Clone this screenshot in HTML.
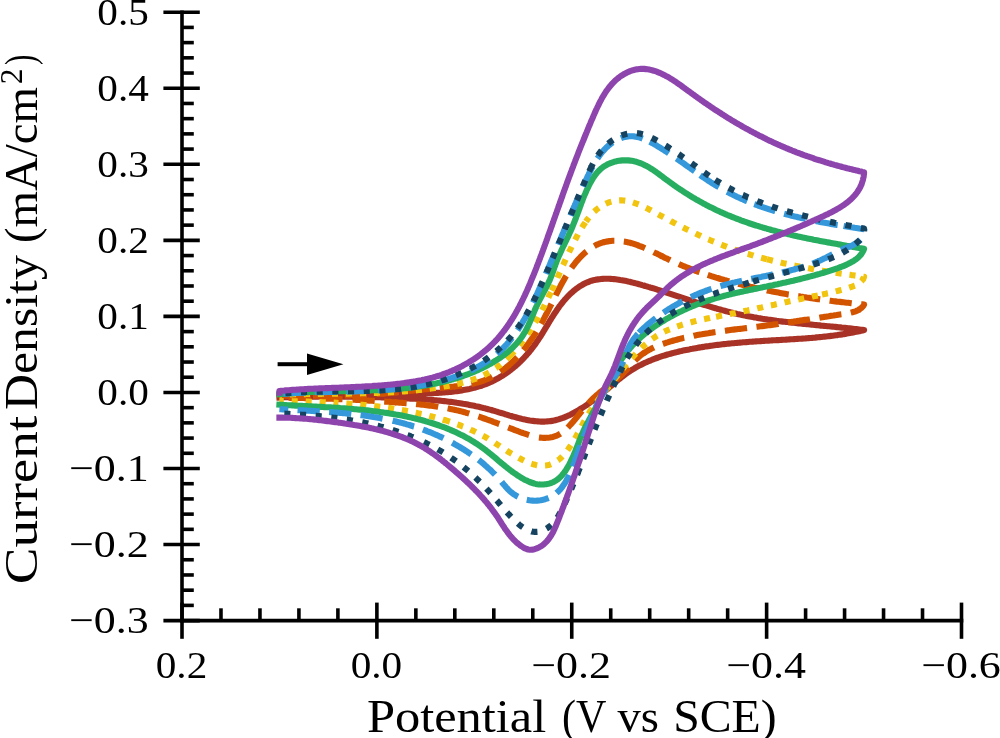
<!DOCTYPE html>
<html><head><meta charset="utf-8"><style>
html,body{margin:0;padding:0;background:#fff;}
svg{display:block;}
text{font-family:"Liberation Serif",serif;fill:#000;}
</style></head><body>
<svg style="will-change:transform" width="1000" height="738" viewBox="0 0 1000 738">
<rect width="1000" height="738" fill="#fff"/>
<path d="M279.4,396.0 L281.0,396.0 L282.6,396.1 L284.2,396.1 L285.8,396.1 L287.4,396.2 L289.0,396.2 L290.6,396.2 L292.2,396.2 L293.8,396.3 L295.4,396.3 L297.0,396.3 L298.6,396.3 L300.2,396.3 L301.8,396.3 L303.4,396.3 L305.0,396.3 L306.6,396.3 L308.2,396.3 L309.8,396.3 L311.4,396.3 L313.0,396.3 L314.6,396.3 L316.2,396.3 L317.8,396.3 L319.4,396.2 L321.0,396.2 L322.6,396.2 L324.2,396.2 L325.8,396.1 L327.4,396.1 L329.0,396.1 L330.6,396.1 L332.2,396.0 L333.8,396.0 L335.4,396.0 L337.0,395.9 L338.6,395.9 L340.2,395.8 L341.8,395.8 L343.4,395.8 L345.1,395.7 L346.7,395.7 L348.3,395.6 L349.9,395.6 L351.5,395.5 L353.1,395.5 L354.7,395.5 L356.3,395.4 L357.9,395.4 L359.5,395.3 L361.1,395.3 L362.7,395.2 L364.3,395.2 L365.9,395.1 L367.5,395.0 L369.1,395.0 L370.7,394.9 L372.3,394.9 L373.9,394.8 L375.5,394.8 L377.1,394.7 L378.7,394.7 L380.3,394.6 L381.9,394.6 L383.5,394.5 L385.1,394.5 L386.7,394.4 L388.3,394.4 L389.9,394.3 L391.5,394.3 L393.1,394.2 L394.7,394.2 L396.3,394.1 L397.9,394.1 L399.5,394.0 L401.1,394.0 L402.7,393.9 L404.3,393.9 L405.9,393.9 L407.5,393.8 L409.1,393.8 L410.7,393.7 L412.3,393.7 L413.9,393.7 L415.5,393.6 L417.1,393.6 L418.7,393.6 L420.3,393.5 L421.9,393.5 L423.5,393.4 L425.1,393.4 L426.7,393.3 L428.3,393.3 L429.9,393.2 L431.5,393.2 L433.1,393.1 L434.7,393.0 L436.3,392.9 L437.9,392.9 L439.5,392.8 L441.1,392.7 L442.7,392.5 L444.3,392.4 L445.9,392.3 L447.5,392.2 L449.1,392.0 L450.7,391.9 L452.3,391.7 L453.8,391.5 L455.4,391.3 L457.0,391.1 L458.6,390.9 L460.2,390.6 L461.8,390.4 L463.3,390.1 L464.9,389.8 L466.5,389.5 L468.1,389.2 L469.6,388.9 L471.2,388.5 L472.8,388.1 L474.3,387.8 L475.9,387.3 L477.4,386.9 L478.9,386.4 L480.5,386.0 L482.0,385.5 L483.5,384.9 L485.0,384.4 L486.5,383.8 L488.0,383.2 L489.4,382.6 L490.9,381.9 L492.4,381.3 L493.8,380.6 L495.2,379.8 L496.6,379.1 L498.1,378.3 L499.4,377.5 L500.8,376.7 L502.2,375.9 L503.5,375.0 L504.9,374.1 L506.2,373.2 L507.5,372.3 L508.8,371.4 L510.1,370.4 L511.3,369.4 L512.6,368.4 L513.8,367.4 L515.1,366.4 L516.3,365.3 L517.5,364.2 L518.6,363.2 L519.8,362.1 L520.9,360.9 L522.1,359.8 L523.2,358.7 L524.3,357.5 L525.4,356.3 L526.5,355.1 L527.5,353.9 L528.6,352.7 L529.6,351.5 L530.6,350.2 L531.6,349.0 L532.6,347.7 L533.5,346.5 L534.5,345.2 L535.4,343.9 L536.3,342.6 L537.2,341.2 L538.1,339.9 L539.0,338.6 L539.9,337.2 L540.8,335.9 L541.6,334.5 L542.5,333.2 L543.3,331.8 L544.1,330.4 L545.0,329.1 L545.8,327.7 L546.6,326.3 L547.5,325.0 L548.3,323.6 L549.1,322.2 L549.9,320.8 L550.8,319.5 L551.6,318.1 L552.5,316.8 L553.3,315.4 L554.2,314.1 L555.1,312.7 L556.0,311.4 L556.9,310.1 L557.8,308.7 L558.7,307.4 L559.6,306.1 L560.6,304.9 L561.6,303.6 L562.6,302.3 L563.6,301.1 L564.6,299.9 L565.7,298.7 L566.8,297.5 L567.9,296.3 L569.0,295.2 L570.1,294.1 L571.3,293.0 L572.5,291.9 L573.7,290.8 L574.9,289.8 L576.2,288.8 L577.5,287.9 L578.8,287.0 L580.1,286.1 L581.5,285.3 L582.9,284.5 L584.3,283.7 L585.7,283.0 L587.2,282.4 L588.7,281.8 L590.2,281.2 L591.7,280.7 L593.3,280.3 L594.8,279.9 L596.4,279.6 L598.0,279.4 L599.6,279.2 L601.1,279.0 L602.7,278.9 L604.3,278.8 L605.9,278.8 L607.5,278.8 L609.1,278.8 L610.7,278.9 L612.3,279.0 L613.9,279.1 L615.5,279.3 L617.1,279.5 L618.7,279.7 L620.3,280.0 L621.9,280.2 L623.4,280.5 L625.0,280.8 L626.6,281.1 L628.2,281.5 L629.7,281.8 L631.3,282.2 L632.8,282.6 L634.4,283.0 L635.9,283.4 L637.5,283.8 L639.0,284.2 L640.6,284.6 L642.1,285.1 L643.7,285.5 L645.2,286.0 L646.7,286.4 L648.3,286.9 L649.8,287.3 L651.3,287.8 L652.9,288.2 L654.4,288.7 L655.9,289.2 L657.5,289.7 L659.0,290.1 L660.5,290.6 L662.0,291.1 L663.6,291.6 L665.1,292.1 L666.6,292.6 L668.1,293.1 L669.7,293.6 L671.2,294.1 L672.7,294.6 L674.2,295.1 L675.7,295.6 L677.3,296.1 L678.8,296.6 L680.3,297.1 L681.8,297.6 L683.3,298.1 L684.9,298.6 L686.4,299.1 L687.9,299.6 L689.4,300.1 L691.0,300.6 L692.5,301.1 L694.0,301.6 L695.5,302.1 L697.0,302.6 L698.6,303.0 L700.1,303.5 L701.6,304.0 L703.1,304.5 L704.7,305.0 L706.2,305.4 L707.7,305.9 L709.3,306.4 L710.8,306.9 L712.3,307.3 L713.9,307.8 L715.4,308.2 L716.9,308.7 L718.5,309.1 L720.0,309.5 L721.6,310.0 L723.1,310.4 L724.7,310.8 L726.2,311.2 L727.8,311.6 L729.3,312.0 L730.9,312.4 L732.4,312.8 L734.0,313.2 L735.5,313.5 L737.1,313.9 L738.7,314.2 L740.2,314.6 L741.8,314.9 L743.4,315.2 L744.9,315.6 L746.5,315.9 L748.1,316.2 L749.6,316.5 L751.2,316.8 L752.8,317.1 L754.4,317.4 L755.9,317.6 L757.5,317.9 L759.1,318.2 L760.7,318.4 L762.3,318.7 L763.8,318.9 L765.4,319.2 L767.0,319.4 L768.6,319.7 L770.2,319.9 L771.8,320.1 L773.3,320.3 L774.9,320.5 L776.5,320.8 L778.1,321.0 L779.7,321.2 L781.3,321.4 L782.9,321.6 L784.5,321.8 L786.1,321.9 L787.6,322.1 L789.2,322.3 L790.8,322.5 L792.4,322.7 L794.0,322.8 L795.6,323.0 L797.2,323.2 L798.8,323.4 L800.4,323.5 L802.0,323.7 L803.6,323.9 L805.2,324.0 L806.8,324.2 L808.3,324.3 L809.9,324.5 L811.5,324.6 L813.1,324.8 L814.7,325.0 L816.3,325.1 L817.9,325.3 L819.5,325.4 L821.1,325.6 L822.7,325.7 L824.3,325.9 L825.9,326.0 L827.5,326.2 L829.1,326.3 L830.7,326.5 L832.3,326.6 L833.9,326.8 L835.4,326.9 L837.0,327.1 L838.6,327.3 L840.2,327.4 L841.8,327.6 L843.4,327.7 L845.0,327.9 L846.6,328.1 L848.2,328.3 L849.8,328.4 L851.4,328.6 L853.0,328.8 L854.6,329.0 L856.2,329.1 L857.7,329.3 L859.3,329.5 L860.9,329.7 L862.5,329.9 L864.1,330.1 L862.5,330.5 L861.0,330.8 L859.4,331.2 L857.9,331.5 L856.3,331.8 L854.7,332.1 L853.1,332.5 L851.6,332.8 L850.0,333.0 L848.4,333.3 L846.8,333.6 L845.3,333.9 L843.7,334.1 L842.1,334.4 L840.5,334.6 L838.9,334.8 L837.4,335.1 L835.8,335.3 L834.2,335.5 L832.6,335.7 L831.0,335.9 L829.4,336.1 L827.8,336.3 L826.2,336.5 L824.6,336.6 L823.1,336.8 L821.5,337.0 L819.9,337.1 L818.3,337.3 L816.7,337.4 L815.1,337.6 L813.5,337.7 L811.9,337.9 L810.3,338.0 L808.7,338.1 L807.1,338.2 L805.5,338.4 L803.9,338.5 L802.3,338.6 L800.7,338.7 L799.1,338.8 L797.5,338.9 L795.9,339.0 L794.3,339.1 L792.7,339.2 L791.1,339.3 L789.5,339.4 L787.9,339.5 L786.4,339.6 L784.8,339.7 L783.2,339.8 L781.6,339.9 L780.0,340.0 L778.4,340.1 L776.8,340.1 L775.2,340.2 L773.6,340.3 L772.0,340.4 L770.4,340.5 L768.8,340.6 L767.2,340.7 L765.6,340.8 L764.0,340.9 L762.4,341.0 L760.8,341.1 L759.2,341.2 L757.6,341.3 L756.0,341.4 L754.4,341.5 L752.8,341.6 L751.2,341.7 L749.6,341.8 L748.0,342.0 L746.4,342.1 L744.8,342.2 L743.2,342.3 L741.6,342.5 L740.0,342.6 L738.4,342.7 L736.8,342.9 L735.2,343.0 L733.7,343.2 L732.1,343.3 L730.5,343.5 L728.9,343.6 L727.3,343.8 L725.7,344.0 L724.1,344.1 L722.5,344.3 L720.9,344.5 L719.3,344.7 L717.7,344.9 L716.2,345.1 L714.6,345.3 L713.0,345.5 L711.4,345.7 L709.8,345.9 L708.2,346.2 L706.6,346.4 L705.1,346.6 L703.5,346.9 L701.9,347.1 L700.3,347.4 L698.7,347.6 L697.2,347.9 L695.6,348.2 L694.0,348.5 L692.4,348.8 L690.9,349.0 L689.3,349.4 L687.7,349.7 L686.1,350.0 L684.6,350.3 L683.0,350.6 L681.4,351.0 L679.9,351.3 L678.3,351.7 L676.8,352.1 L675.2,352.5 L673.7,352.9 L672.1,353.3 L670.6,353.7 L669.0,354.1 L667.5,354.5 L666.0,355.0 L664.4,355.5 L662.9,355.9 L661.4,356.4 L659.9,356.9 L658.3,357.5 L656.8,358.0 L655.3,358.5 L653.8,359.1 L652.3,359.7 L650.9,360.3 L649.4,360.9 L647.9,361.5 L646.4,362.2 L645.0,362.8 L643.5,363.5 L642.1,364.2 L640.7,364.9 L639.2,365.6 L637.8,366.4 L636.4,367.2 L635.0,368.0 L633.7,368.8 L632.3,369.6 L630.9,370.5 L629.6,371.3 L628.3,372.2 L626.9,373.1 L625.6,374.1 L624.4,375.0 L623.1,376.0 L621.8,377.0 L620.6,378.0 L619.3,379.0 L618.1,380.0 L616.9,381.0 L615.6,382.1 L614.4,383.1 L613.2,384.1 L612.0,385.2 L610.8,386.2 L609.5,387.2 L608.3,388.3 L607.1,389.3 L605.9,390.3 L604.6,391.3 L603.4,392.4 L602.1,393.4 L600.9,394.4 L599.6,395.4 L598.4,396.4 L597.1,397.4 L595.9,398.3 L594.6,399.3 L593.3,400.3 L592.0,401.2 L590.7,402.1 L589.4,403.1 L588.1,404.0 L586.8,404.9 L585.5,405.8 L584.1,406.7 L582.8,407.5 L581.4,408.4 L580.1,409.2 L578.7,410.1 L577.3,410.9 L575.9,411.7 L574.5,412.5 L573.1,413.2 L571.7,414.0 L570.3,414.7 L568.8,415.4 L567.4,416.0 L565.9,416.7 L564.4,417.3 L562.9,417.9 L561.4,418.4 L559.9,418.9 L558.4,419.4 L556.8,419.8 L555.3,420.2 L553.7,420.6 L552.2,420.9 L550.6,421.1 L549.0,421.3 L547.4,421.4 L545.8,421.5 L544.2,421.6 L542.6,421.6 L541.0,421.6 L539.4,421.5 L537.8,421.4 L536.2,421.3 L534.6,421.1 L533.0,420.9 L531.4,420.7 L529.8,420.5 L528.3,420.2 L526.7,419.9 L525.1,419.6 L523.6,419.2 L522.0,418.9 L520.4,418.5 L518.9,418.1 L517.3,417.7 L515.8,417.3 L514.3,416.9 L512.7,416.5 L511.2,416.0 L509.6,415.6 L508.1,415.1 L506.6,414.6 L505.0,414.2 L503.5,413.7 L502.0,413.2 L500.5,412.8 L498.9,412.3 L497.4,411.8 L495.9,411.4 L494.3,410.9 L492.8,410.5 L491.3,410.0 L489.7,409.6 L488.2,409.2 L486.6,408.8 L485.1,408.3 L483.5,408.0 L482.0,407.6 L480.4,407.2 L478.8,406.8 L477.3,406.5 L475.7,406.2 L474.2,405.8 L472.6,405.5 L471.0,405.2 L469.4,404.9 L467.9,404.6 L466.3,404.3 L464.7,404.0 L463.1,403.8 L461.6,403.5 L460.0,403.2 L458.4,403.0 L456.8,402.8 L455.2,402.5 L453.6,402.3 L452.1,402.1 L450.5,401.9 L448.9,401.7 L447.3,401.5 L445.7,401.3 L444.1,401.1 L442.5,401.0 L440.9,400.8 L439.3,400.6 L437.7,400.5 L436.2,400.3 L434.6,400.2 L433.0,400.0 L431.4,399.9 L429.8,399.8 L428.2,399.7 L426.6,399.5 L425.0,399.4 L423.4,399.3 L421.8,399.2 L420.2,399.1 L418.6,399.0 L417.0,398.9 L415.4,398.8 L413.8,398.7 L412.2,398.6 L410.6,398.6 L409.0,398.5 L407.4,398.4 L405.8,398.3 L404.2,398.3 L402.6,398.2 L401.0,398.1 L399.4,398.0 L397.8,398.0 L396.2,397.9 L394.6,397.9 L393.0,397.8 L391.4,397.7 L389.8,397.7 L388.2,397.6 L386.6,397.6 L385.0,397.5 L383.4,397.4 L381.8,397.4 L380.2,397.3 L378.6,397.3 L377.0,397.2 L375.4,397.2 L373.8,397.1 L372.2,397.1 L370.6,397.1 L369.0,397.0 L367.4,397.0 L365.8,396.9 L364.2,396.9 L362.6,396.9 L361.0,396.8 L359.4,396.8 L357.8,396.8 L356.2,396.7 L354.6,396.7 L353.0,396.7 L351.4,396.7 L349.8,396.6 L348.2,396.6 L346.6,396.6 L345.0,396.6 L343.4,396.6 L341.8,396.5 L340.2,396.5 L338.6,396.5 L337.0,396.5 L335.4,396.5 L333.8,396.5 L332.2,396.5 L330.6,396.5 L329.0,396.5 L327.4,396.5 L325.8,396.5 L324.2,396.5 L322.6,396.5 L321.0,396.5 L319.4,396.5 L317.8,396.6 L316.2,396.6 L314.6,396.6 L313.0,396.6 L311.4,396.6 L309.8,396.7 L308.2,396.7 L306.6,396.7 L305.0,396.7 L303.4,396.8 L301.8,396.8 L300.2,396.8 L298.6,396.9 L297.0,396.9 L295.4,397.0 L293.8,397.0 L292.2,397.0 L290.6,397.1 L289.0,397.1 L287.4,397.2 L285.8,397.3 L284.2,397.3 L282.6,397.4 L281.0,397.4 L279.4,397.5" fill="none" stroke="#a93226" stroke-width="6.10" stroke-linejoin="round" stroke-linecap="square"/>
<path d="M279.4,395.5 L281.0,395.5 L282.6,395.5 L284.2,395.5 L285.8,395.6 L287.4,395.6 L289.0,395.6 L290.6,395.6 L292.2,395.6 L293.8,395.6 L295.4,395.7 L297.0,395.7 L298.6,395.7 L300.2,395.7 L301.8,395.7 L303.4,395.7 L305.0,395.7 L306.7,395.7 L308.3,395.7 L309.9,395.8 L311.5,395.8 L313.1,395.8 L314.7,395.8 L316.3,395.8 L317.9,395.8 L319.5,395.8 L321.1,395.8 L322.7,395.8 L324.3,395.8 L325.9,395.8 L327.5,395.8 L329.1,395.7 L330.7,395.7 L332.3,395.7 L333.9,395.7 L335.5,395.7 L337.1,395.7 L338.7,395.6 L340.3,395.6 L341.9,395.6 L343.5,395.5 L345.1,395.5 L346.7,395.5 L348.3,395.4 L349.9,395.4 L351.5,395.3 L353.1,395.3 L354.7,395.2 L356.3,395.2 L357.9,395.1 L359.5,395.0 L361.1,395.0 L362.8,394.9 L364.4,394.8 L366.0,394.7 L367.6,394.7 L369.2,394.6 L370.8,394.5 L372.4,394.4 L374.0,394.3 L375.6,394.2 L377.2,394.0 L378.8,393.9 L380.4,393.8 L381.9,393.7 L383.5,393.6 L385.1,393.4 L386.7,393.3 L388.3,393.1 L389.9,393.0 L391.5,392.8 L393.1,392.7 L394.7,392.5 L396.3,392.4 L397.9,392.2 L399.5,392.0 L401.1,391.9 L402.7,391.7 L404.3,391.5 L405.9,391.4 L407.5,391.2 L409.1,391.0 L410.7,390.8 L412.3,390.7 L413.9,390.5 L415.4,390.3 L417.0,390.2 L418.6,390.0 L420.2,389.8 L421.8,389.6 L423.4,389.5 L425.0,389.3 L426.6,389.1 L428.2,389.0 L429.8,388.8 L431.4,388.6 L433.0,388.5 L434.6,388.3 L436.2,388.2 L437.8,388.0 L439.4,387.9 L441.0,387.7 L442.6,387.6 L444.2,387.4 L445.8,387.3 L447.4,387.2 L448.9,387.0 L450.5,386.9 L452.1,386.7 L453.7,386.6 L455.3,386.4 L456.9,386.2 L458.5,386.0 L460.1,385.8 L461.7,385.6 L463.3,385.4 L464.9,385.2 L466.5,384.9 L468.0,384.6 L469.6,384.3 L471.2,384.0 L472.7,383.7 L474.3,383.3 L475.9,382.9 L477.4,382.5 L479.0,382.1 L480.5,381.6 L482.0,381.1 L483.5,380.6 L485.0,380.0 L486.5,379.4 L488.0,378.7 L489.4,378.1 L490.9,377.4 L492.3,376.6 L493.7,375.9 L495.1,375.1 L496.5,374.3 L497.8,373.4 L499.2,372.6 L500.5,371.7 L501.8,370.8 L503.1,369.8 L504.4,368.9 L505.7,367.9 L506.9,366.9 L508.2,365.8 L509.4,364.8 L510.6,363.7 L511.8,362.6 L512.9,361.5 L514.1,360.4 L515.2,359.3 L516.3,358.1 L517.4,357.0 L518.5,355.8 L519.6,354.6 L520.6,353.4 L521.7,352.2 L522.7,350.9 L523.7,349.7 L524.7,348.4 L525.7,347.2 L526.7,345.9 L527.6,344.6 L528.6,343.3 L529.5,342.0 L530.4,340.7 L531.4,339.4 L532.3,338.1 L533.2,336.7 L534.0,335.4 L534.9,334.1 L535.8,332.7 L536.6,331.3 L537.4,330.0 L538.3,328.6 L539.1,327.2 L539.9,325.8 L540.7,324.5 L541.5,323.1 L542.3,321.7 L543.1,320.3 L543.8,318.9 L544.6,317.4 L545.3,316.0 L546.1,314.6 L546.8,313.2 L547.6,311.8 L548.3,310.3 L549.0,308.9 L549.7,307.5 L550.4,306.0 L551.2,304.6 L551.9,303.2 L552.6,301.7 L553.3,300.3 L554.0,298.8 L554.7,297.4 L555.4,296.0 L556.1,294.5 L556.9,293.1 L557.6,291.7 L558.3,290.2 L559.0,288.8 L559.8,287.4 L560.5,286.0 L561.3,284.6 L562.0,283.2 L562.8,281.8 L563.6,280.4 L564.4,279.0 L565.2,277.6 L566.0,276.2 L566.9,274.8 L567.7,273.5 L568.6,272.1 L569.5,270.8 L570.4,269.5 L571.3,268.2 L572.2,266.9 L573.2,265.6 L574.2,264.3 L575.2,263.0 L576.2,261.8 L577.2,260.6 L578.3,259.4 L579.4,258.2 L580.5,257.0 L581.6,255.9 L582.7,254.8 L583.9,253.7 L585.1,252.6 L586.3,251.6 L587.6,250.6 L588.8,249.6 L590.1,248.6 L591.5,247.8 L592.8,246.9 L594.2,246.1 L595.6,245.3 L597.1,244.6 L598.5,244.0 L600.0,243.4 L601.5,242.9 L603.1,242.4 L604.6,242.0" fill="none" stroke="#d35400" stroke-width="6.10" stroke-linejoin="round" stroke-linecap="butt" stroke-dasharray="22.30 9.50" stroke-dashoffset="30.06"/>
<path d="M603.1,242.4 L604.6,242.0 L606.2,241.6 L607.8,241.4 L609.3,241.1 L610.9,241.0 L612.5,240.8 L614.1,240.8 L615.7,240.8 L617.3,240.8 L618.9,240.9 L620.5,241.0 L622.1,241.2 L623.7,241.5 L625.3,241.7 L626.9,242.1 L628.4,242.4 L630.0,242.8 L631.5,243.2 L633.1,243.7 L634.6,244.2 L636.1,244.7 L637.6,245.2 L639.1,245.8 L640.6,246.3 L642.1,246.9 L643.6,247.5 L645.1,248.2 L646.6,248.8 L648.0,249.5 L649.5,250.1 L650.9,250.8 L652.4,251.5 L653.8,252.2 L655.3,252.9 L656.7,253.6 L658.1,254.3 L659.6,255.0 L661.0,255.7 L662.4,256.4" fill="none" stroke="#d35400" stroke-width="6.10" stroke-linejoin="round" stroke-linecap="butt" stroke-dasharray="22.30 9.50" stroke-dashoffset="10.88"/>
<path d="M661.0,255.7 L662.4,256.4 L663.9,257.2 L665.3,257.9 L666.8,258.6 L668.2,259.3 L669.7,259.9 L671.1,260.6 L672.6,261.3 L674.0,262.0 L675.5,262.6 L676.9,263.3 L678.4,263.9 L679.9,264.6 L681.4,265.2 L682.8,265.8 L684.3,266.4 L685.8,267.0 L687.3,267.6 L688.8,268.2 L690.3,268.8 L691.8,269.4 L693.3,269.9 L694.8,270.5 L696.3,271.0 L697.8,271.6 L699.3,272.1 L700.8,272.6 L702.3,273.2 L703.9,273.7" fill="none" stroke="#d35400" stroke-width="6.10" stroke-linejoin="round" stroke-linecap="butt" stroke-dasharray="22.30 9.50" stroke-dashoffset="12.08"/>
<path d="M702.3,273.2 L703.9,273.7 L705.4,274.2 L706.9,274.7 L708.4,275.2 L709.9,275.7 L711.5,276.2 L713.0,276.6 L714.5,277.1 L716.1,277.6 L717.6,278.0 L719.1,278.5 L720.7,279.0 L722.2,279.4 L723.8,279.8 L725.3,280.3 L726.8,280.7 L728.4,281.1 L729.9,281.6 L731.5,282.0 L733.0,282.4 L734.6,282.8 L736.1,283.2 L737.7,283.6 L739.2,284.0 L740.8,284.4 L742.3,284.8 L743.9,285.2 L745.5,285.6 L747.0,285.9 L748.6,286.3" fill="none" stroke="#d35400" stroke-width="6.10" stroke-linejoin="round" stroke-linecap="butt" stroke-dasharray="22.30 9.50" stroke-dashoffset="26.09"/>
<path d="M747.0,285.9 L748.6,286.3 L750.1,286.7 L751.7,287.0 L753.3,287.4 L754.8,287.8 L756.4,288.1 L758.0,288.5 L759.5,288.8 L761.1,289.1 L762.7,289.5 L764.2,289.8 L765.8,290.1 L767.4,290.5 L768.9,290.8 L770.5,291.1 L772.1,291.4 L773.7,291.7 L775.2,292.0 L776.8,292.3 L778.4,292.6 L780.0,292.9 L781.5,293.2 L783.1,293.5 L784.7,293.8 L786.3,294.1 L787.8,294.4 L789.4,294.6 L791.0,294.9 L792.6,295.2 L794.2,295.4 L795.7,295.7 L797.3,296.0 L798.9,296.2 L800.5,296.5 L802.1,296.7 L803.7,297.0 L805.2,297.2 L806.8,297.5 L808.4,297.7 L810.0,297.9 L811.6,298.2 L813.2,298.4 L814.8,298.6 L816.3,298.9 L817.9,299.1 L819.5,299.3 L821.1,299.5 L822.7,299.7 L824.3,299.9 L825.9,300.2 L827.5,300.4 L829.1,300.6 L830.6,300.8 L832.2,301.0 L833.8,301.2 L835.4,301.4 L837.0,301.6 L838.6,301.7 L840.2,301.9 L841.8,302.1 L843.4,302.3 L845.0,302.5 L846.6,302.7 L848.2,302.8 L849.7,303.0 L851.3,303.2 L852.9,303.4 L854.5,303.5 L856.1,303.7 L857.7,303.9 L859.3,304.0 L860.9,304.2 L862.5,304.3 L864.1,304.5 L863.3,305.9 L862.3,307.1 L861.1,308.2 L859.8,309.2 L858.4,310.0" fill="none" stroke="#d35400" stroke-width="6.10" stroke-linejoin="round" stroke-linecap="butt" stroke-dasharray="22.30 9.50" stroke-dashoffset="11.44"/>
<path d="M859.8,309.2 L858.4,310.0 L857.0,310.7 L855.5,311.3 L854.0,311.8 L852.4,312.2 L850.9,312.6 L849.3,313.0 L847.8,313.3 L846.2,313.5 L844.6,313.8 L843.0,314.0 L841.4,314.3 L839.8,314.5 L838.2,314.7 L836.7,315.0 L835.1,315.2 L833.5,315.5 L831.9,315.7 L830.3,315.9 L828.7,316.2 L827.2,316.4 L825.6,316.7 L824.0,316.9 L822.4,317.2 L820.8,317.4 L819.2,317.7 L817.7,317.9 L816.1,318.2 L814.5,318.4 L812.9,318.7 L811.3,318.9 L809.7,319.2 L808.2,319.4 L806.6,319.7 L805.0,319.9 L803.4,320.1 L801.8,320.4 L800.2,320.6 L798.7,320.9 L797.1,321.1 L795.5,321.4 L793.9,321.6 L792.3,321.9 L790.7,322.1 L789.2,322.3 L787.6,322.6 L786.0,322.8 L784.4,323.0 L782.8,323.3 L781.2,323.5 L779.6,323.7 L778.1,324.0 L776.5,324.2 L774.9,324.4 L773.3,324.6 L771.7,324.9 L770.1,325.1 L768.5,325.3 L766.9,325.5 L765.4,325.7 L763.8,325.9 L762.2,326.1 L760.6,326.3 L759.0,326.5 L757.4,326.7 L755.8,326.9 L754.2,327.1 L752.6,327.3 L751.0,327.5 L749.4,327.7 L747.9,327.9 L746.3,328.1 L744.7,328.3 L743.1,328.5 L741.5,328.7 L739.9,328.9 L738.3,329.0 L736.7,329.2 L735.1,329.4 L733.5,329.6 L731.9,329.8 L730.4,330.0 L728.8,330.2 L727.2,330.4 L725.6,330.7 L724.0,330.9 L722.4,331.1 L720.8,331.3 L719.2,331.5 L717.7,331.7 L716.1,332.0 L714.5,332.2 L712.9,332.4 L711.3,332.7 L709.7,332.9 L708.1,333.2 L706.6,333.4 L705.0,333.7 L703.4,334.0 L701.8,334.3 L700.2,334.5 L698.7,334.8 L697.1,335.1 L695.5,335.4 L693.9,335.7 L692.4,336.1 L690.8,336.4 L689.2,336.7 L687.7,337.1 L686.1,337.4 L684.6,337.8 L683.0,338.1 L681.4,338.5 L679.9,338.9 L678.3,339.3 L676.8,339.7 L675.2,340.1 L673.7,340.5 L672.1,341.0 L670.6,341.4 L669.1,341.9 L667.5,342.4 L666.0,342.8 L664.5,343.3 L663.0,343.9 L661.5,344.4 L660.0,345.0 L658.5,345.5 L657.0,346.1 L655.5,346.8 L654.0,347.4 L652.6,348.1 L651.1,348.8 L649.7,349.6 L648.3,350.3 L646.9,351.1 L645.6,352.0 L644.2,352.8 L642.9,353.7" fill="none" stroke="#d35400" stroke-width="6.10" stroke-linejoin="round" stroke-linecap="butt" stroke-dasharray="22.30 9.50" stroke-dashoffset="12.56"/>
<path d="M644.2,352.8 L642.9,353.7 L641.6,354.7 L640.3,355.7 L639.1,356.7 L637.9,357.8 L636.7,358.8 L635.6,360.0 L634.5,361.1 L633.4,362.3 L632.3,363.4 L631.2,364.6 L630.1,365.8 L629.0,367.0 L628.0,368.2 L626.9,369.4 L625.8,370.6 L624.7,371.7 L623.6,372.9 L622.5,374.0 L621.3,375.2 L620.2,376.3 L619.0,377.3 L617.8,378.4 L616.6,379.4 L615.3,380.5 L614.1,381.5 L612.8,382.5 L611.6,383.4 L610.3,384.4 L609.0,385.4 L607.7,386.4 L606.5,387.3 L605.2,388.3 L603.9,389.3 L602.6,390.3 L601.4,391.2 L600.1,392.2 L598.9,393.3 L597.7,394.3 L596.5,395.3 L595.3,396.4 L594.1,397.5 L592.9,398.6 L591.8,399.7 L590.7,400.9 L589.6,402.1 L588.5,403.2 L587.4,404.4 L586.4,405.6 L585.3,406.9 L584.3,408.1 L583.3,409.3 L582.3,410.5 L581.2,411.8 L580.2,413.0 L579.2,414.3 L578.2,415.5 L577.2,416.8 L576.2,418.0 L575.2,419.2 L574.1,420.5 L573.1,421.7 L572.1,422.9 L571.0,424.1 L569.9,425.3 L568.8,426.5 L567.7,427.7 L566.6,428.8 L565.4,429.9 L564.2,430.9 L563.0,431.9 L561.7,432.9 L560.3,433.8 L558.9,434.5 L557.5,435.2 L556.0,435.9 L554.5,436.4 L553.0,436.9 L551.4,437.2 L549.8,437.5 L548.3,437.7 L546.7,437.8 L545.1,437.9 L543.5,437.9 L541.9,437.8 L540.3,437.6 L538.7,437.4 L537.1,437.2 L535.5,436.8 L534.0,436.5 L532.4,436.1" fill="none" stroke="#d35400" stroke-width="6.10" stroke-linejoin="round" stroke-linecap="butt" stroke-dasharray="22.30 9.50" stroke-dashoffset="10.29"/>
<path d="M534.0,436.5 L532.4,436.1 L530.9,435.7 L529.3,435.2 L527.8,434.7 L526.3,434.2 L524.8,433.7 L523.2,433.2 L521.7,432.6 L520.2,432.1 L518.7,431.5 L517.2,430.9 L515.7,430.4 L514.2,429.8 L512.7,429.2 L511.2,428.6 L509.8,428.1 L508.3,427.5 L506.8,426.9 L505.3,426.3 L503.8,425.8 L502.3,425.2 L500.8,424.6 L499.3,424.0 L497.8,423.5 L496.3,422.9 L494.8,422.3 L493.3,421.8 L491.8,421.2 L490.3,420.7 L488.8,420.1 L487.3,419.6 L485.8,419.0 L484.2,418.5 L482.7,418.0 L481.2,417.4 L479.7,416.9 L478.2,416.4 L476.7,415.9 L475.1,415.4 L473.6,414.9" fill="none" stroke="#d35400" stroke-width="6.10" stroke-linejoin="round" stroke-linecap="butt" stroke-dasharray="22.30 9.50" stroke-dashoffset="26.71"/>
<path d="M475.1,415.4 L473.6,414.9 L472.1,414.5 L470.5,414.0 L469.0,413.5 L467.5,413.1 L465.9,412.7 L464.4,412.2 L462.8,411.8 L461.3,411.4 L459.7,411.0 L458.2,410.6 L456.6,410.3 L455.0,409.9 L453.5,409.6 L451.9,409.2 L450.3,408.9 L448.8,408.6 L447.2,408.3 L445.6,408.0 L444.0,407.7 L442.5,407.5 L440.9,407.2 L439.3,407.0 L437.7,406.7 L436.1,406.5 L434.5,406.2 L433.0,406.0 L431.4,405.8 L429.8,405.6 L428.2,405.4 L426.6,405.2 L425.0,405.0 L423.4,404.8 L421.8,404.7 L420.2,404.5 L418.6,404.3 L417.0,404.2 L415.4,404.0 L413.8,403.9 L412.3,403.7 L410.7,403.6 L409.1,403.4 L407.5,403.3 L405.9,403.2 L404.3,403.0 L402.7,402.9 L401.1,402.8 L399.5,402.7 L397.9,402.5 L396.3,402.4 L394.7,402.3" fill="none" stroke="#d35400" stroke-width="6.10" stroke-linejoin="round" stroke-linecap="butt" stroke-dasharray="22.30 9.50" stroke-dashoffset="25.68"/>
<path d="M396.3,402.4 L394.7,402.3 L393.1,402.2 L391.5,402.1 L389.9,401.9 L388.3,401.8 L386.7,401.7 L385.1,401.6 L383.5,401.5 L381.9,401.4 L380.3,401.3 L378.7,401.2 L377.1,401.1 L375.5,401.0 L373.9,400.9 L372.3,400.8 L370.7,400.7 L369.1,400.6 L367.5,400.5 L365.9,400.4 L364.3,400.3 L362.7,400.2 L361.1,400.1 L359.5,400.0 L357.9,400.0 L356.3,399.9 L354.7,399.8 L353.1,399.7 L351.5,399.6 L349.9,399.6 L348.3,399.5 L346.7,399.4" fill="none" stroke="#d35400" stroke-width="6.10" stroke-linejoin="round" stroke-linecap="butt" stroke-dasharray="22.30 9.50" stroke-dashoffset="10.19"/>
<path d="M348.3,399.5 L346.7,399.4 L345.1,399.3 L343.5,399.3 L341.9,399.2 L340.3,399.1 L338.7,399.1 L337.1,399.0 L335.5,398.9 L333.9,398.9 L332.3,398.8 L330.7,398.8 L329.1,398.7 L327.5,398.6 L325.9,398.6 L324.3,398.5 L322.7,398.5 L321.1,398.4 L319.5,398.4 L317.9,398.4 L316.3,398.3 L314.7,398.3 L313.1,398.2 L311.5,398.2 L309.8,398.2 L308.2,398.1 L306.6,398.1 L305.0,398.1 L303.4,398.0 L301.8,398.0 L300.2,398.0 L298.6,398.0 L297.0,397.9 L295.4,397.9 L293.8,397.9 L292.2,397.9 L290.6,397.9 L289.0,397.8 L287.4,397.8 L285.8,397.8 L284.2,397.8 L282.6,397.8 L281.0,397.8 L279.4,397.8" fill="none" stroke="#d35400" stroke-width="6.10" stroke-linejoin="round" stroke-linecap="butt" stroke-dasharray="22.30 9.50" stroke-dashoffset="26.05"/>
<path d="M279.4,394.8 L281.0,394.7 L282.6,394.7 L284.2,394.6 L285.8,394.6 L287.4,394.5 L289.0,394.5 L290.6,394.4 L292.2,394.4 L293.8,394.3 L295.4,394.3 L297.0,394.2 L298.6,394.2 L300.2,394.2 L301.8,394.1 L303.4,394.1 L305.0,394.1 L306.6,394.0 L308.2,394.0 L309.8,394.0 L311.4,394.0 L313.0,393.9 L314.6,393.9 L316.2,393.9 L317.9,393.9 L319.5,393.9 L321.1,393.9 L322.7,393.8 L324.3,393.8 L325.9,393.8 L327.5,393.8 L329.1,393.8 L330.7,393.8 L332.3,393.7 L333.9,393.7 L335.5,393.7 L337.1,393.7 L338.7,393.7 L340.3,393.7 L341.9,393.6 L343.5,393.6 L345.1,393.6 L346.7,393.6 L348.3,393.6 L349.9,393.5 L351.5,393.5 L353.1,393.5 L354.7,393.5 L356.3,393.4 L357.9,393.4 L359.5,393.4 L361.1,393.3 L362.7,393.3 L364.3,393.3 L365.9,393.2 L367.5,393.2 L369.1,393.1 L370.7,393.1 L372.3,393.0 L373.9,393.0 L375.5,392.9 L377.1,392.9 L378.7,392.8 L380.3,392.8 L381.9,392.7 L383.5,392.6 L385.1,392.5 L386.7,392.5 L388.3,392.4 L389.9,392.3 L391.5,392.2 L393.1,392.1 L394.7,392.0 L396.3,391.9 L397.9,391.8 L399.5,391.7 L401.1,391.6 L402.7,391.5 L404.3,391.4 L405.9,391.2 L407.5,391.1 L409.1,391.0 L410.7,390.8 L412.3,390.7 L413.9,390.5 L415.5,390.4 L417.1,390.2 L418.7,390.0 L420.3,389.9 L421.9,389.7 L423.5,389.5 L425.1,389.3 L426.7,389.1 L428.2,388.9 L429.8,388.7 L431.4,388.5 L433.0,388.3 L434.6,388.0 L436.2,387.8 L437.8,387.6 L439.4,387.3 L440.9,387.1 L442.5,386.8 L444.1,386.5 L445.7,386.3 L447.3,386.0 L448.8,385.7 L450.4,385.4 L452.0,385.1 L453.5,384.8 L455.1,384.4 L456.7,384.1 L458.2,383.8 L459.8,383.4 L461.4,383.0 L462.9,382.6 L464.5,382.2 L466.0,381.8 L467.6,381.4 L469.1,380.9 L470.6,380.4 L472.1,379.9 L473.7,379.4 L475.2,378.9 L476.7,378.3 L478.2,377.7 L479.6,377.1 L481.1,376.5 L482.6,375.8 L484.0,375.1 L485.4,374.4 L486.9,373.6 L488.3,372.9 L489.7,372.1 L491.0,371.2 L492.4,370.4 L493.7,369.5 L495.1,368.6 L496.4,367.7 L497.7,366.7 L498.9,365.8 L500.2,364.8 L501.4,363.8 L502.7,362.7 L503.9,361.7 L505.1,360.6 L506.3,359.5 L507.4,358.4 L508.6,357.3 L509.7,356.2 L510.8,355.1" fill="none" stroke="#f1c40f" stroke-width="6.10" stroke-linejoin="round" stroke-linecap="butt" stroke-dasharray="6.10 7.90" stroke-dashoffset="3.49"/>
<path d="M509.7,356.2 L510.8,355.1 L512.0,353.9 L513.0,352.7 L514.1,351.6 L515.2,350.4 L516.3,349.2 L517.3,347.9 L518.3,346.7 L519.3,345.5 L520.3,344.2 L521.3,343.0 L522.3,341.7 L523.3,340.4 L524.2,339.1 L525.2,337.8 L526.1,336.5 L527.0,335.2 L527.9,333.9 L528.8,332.6 L529.7,331.2 L530.6,329.9 L531.5,328.5 L532.3,327.2 L533.2,325.8 L534.0,324.5 L534.8,323.1 L535.7,321.7 L536.5,320.3 L537.3,318.9 L538.1,317.5 L538.8,316.1 L539.6,314.7 L540.4,313.3 L541.1,311.9 L541.9,310.5 L542.6,309.1 L543.4,307.7 L544.1,306.2 L544.8,304.8 L545.5,303.4 L546.2,301.9 L547.0,300.5 L547.7,299.1 L548.3,297.6 L549.0,296.2 L549.7,294.7 L550.4,293.3 L551.1,291.8" fill="none" stroke="#f1c40f" stroke-width="6.10" stroke-linejoin="round" stroke-linecap="butt" stroke-dasharray="6.10 7.90" stroke-dashoffset="13.52"/>
<path d="M550.4,293.3 L551.1,291.8 L551.8,290.4 L552.4,288.9 L553.1,287.5 L553.8,286.0 L554.4,284.5 L555.1,283.1 L555.7,281.6 L556.4,280.1 L557.1,278.7 L557.7,277.2 L558.4,275.8 L559.0,274.3 L559.7,272.8 L560.3,271.4 L561.0,269.9 L561.6,268.4 L562.3,267.0 L562.9,265.5 L563.6,264.1 L564.2,262.6 L564.9,261.1 L565.6,259.7 L566.2,258.2 L566.9,256.8 L567.6,255.3 L568.2,253.8 L568.9,252.4 L569.6,250.9 L570.3,249.5 L571.0,248.1 L571.7,246.6 L572.4,245.2 L573.1,243.7 L573.8,242.3 L574.6,240.9 L575.3,239.5 L576.1,238.0 L576.8,236.6 L577.6,235.2 L578.3,233.8 L579.1,232.4 L579.9,231.0 L580.7,229.6 L581.5,228.3 L582.4,226.9 L583.2,225.5 L584.1,224.2 L585.0,222.9 L585.9,221.5 L586.8,220.2" fill="none" stroke="#f1c40f" stroke-width="6.10" stroke-linejoin="round" stroke-linecap="butt" stroke-dasharray="6.10 7.90" stroke-dashoffset="10.98"/>
<path d="M585.9,221.5 L586.8,220.2 L587.8,219.0 L588.8,217.7 L589.8,216.4 L590.8,215.2 L591.9,214.0 L593.0,212.9 L594.1,211.7 L595.3,210.7 L596.5,209.6 L597.8,208.6 L599.1,207.6 L600.4,206.7 L601.7,205.9 L603.1,205.1 L604.5,204.3 L606.0,203.6 L607.4,203.0 L608.9,202.4 L610.5,201.9 L612.0,201.5 L613.6,201.1 L615.1,200.8 L616.7,200.6 L618.3,200.5 L619.9,200.4 L621.5,200.4 L623.1,200.5 L624.7,200.6 L626.3,200.8 L627.9,201.1 L629.5,201.5 L631.0,201.8 L632.6,202.3 L634.1,202.8 L635.6,203.3 L637.1,203.8 L638.6,204.4 L640.1,205.0 L641.5,205.7 L643.0,206.3 L644.5,207.0 L645.9,207.7 L647.3,208.4 L648.8,209.2 L650.2,209.9 L651.6,210.7 L653.0,211.4 L654.4,212.2 L655.8,213.0 L657.2,213.7 L658.6,214.5 L660.0,215.3 L661.4,216.1 L662.8,216.8 L664.2,217.6 L665.6,218.4 L667.1,219.1 L668.5,219.9 L669.9,220.6 L671.3,221.4 L672.7,222.1 L674.1,222.9 L675.6,223.6 L677.0,224.4 L678.4,225.1 L679.8,225.8 L681.3,226.6 L682.7,227.3 L684.1,228.0 L685.5,228.7 L687.0,229.4 L688.4,230.1 L689.9,230.8 L691.3,231.5 L692.8,232.2 L694.2,232.9 L695.6,233.6 L697.1,234.3 L698.6,235.0 L700.0,235.6 L701.5,236.3 L702.9,236.9 L704.4,237.6 L705.9,238.3 L707.3,238.9 L708.8,239.5 L710.3,240.2 L711.7,240.8 L713.2,241.4 L714.7,242.0 L716.2,242.6 L717.7,243.2 L719.2,243.8 L720.6,244.4 L722.1,245.0 L723.6,245.6 L725.1,246.2 L726.6,246.7 L728.1,247.3 L729.6,247.8 L731.1,248.4 L732.6,248.9 L734.2,249.5 L735.7,250.0 L737.2,250.5 L738.7,251.0 L740.2,251.5 L741.8,252.0 L743.3,252.5 L744.8,253.0 L746.3,253.5 L747.9,253.9 L749.4,254.4 L750.9,254.9 L752.5,255.3 L754.0,255.8 L755.6,256.2 L757.1,256.6 L758.6,257.1 L760.2,257.5 L761.7,257.9 L763.3,258.3 L764.8,258.7 L766.4,259.1 L767.9,259.5" fill="none" stroke="#f1c40f" stroke-width="6.10" stroke-linejoin="round" stroke-linecap="butt" stroke-dasharray="6.10 7.90" stroke-dashoffset="1.12"/>
<path d="M766.4,259.1 L767.9,259.5 L769.5,259.9 L771.0,260.3 L772.6,260.7 L774.2,261.1 L775.7,261.5 L777.3,261.8 L778.8,262.2 L780.4,262.5 L782.0,262.9 L783.5,263.3 L785.1,263.6 L786.7,263.9 L788.2,264.3 L789.8,264.6 L791.4,264.9 L792.9,265.3 L794.5,265.6 L796.1,265.9 L797.6,266.2 L799.2,266.5 L800.8,266.8 L802.4,267.1 L803.9,267.4 L805.5,267.7 L807.1,268.0 L808.7,268.3 L810.2,268.6 L811.8,268.9 L813.4,269.1 L815.0,269.4 L816.6,269.7 L818.1,270.0 L819.7,270.2 L821.3,270.5 L822.9,270.8 L824.5,271.0 L826.0,271.3 L827.6,271.5 L829.2,271.8 L830.8,272.0 L832.4,272.3 L834.0,272.5 L835.5,272.8 L837.1,273.0 L838.7,273.2 L840.3,273.5 L841.9,273.7 L843.5,273.9 L845.1,274.2 L846.6,274.4 L848.2,274.6 L849.8,274.8 L851.4,275.1 L853.0,275.3 L854.6,275.5 L856.2,275.7 L857.7,275.9 L859.3,276.2 L860.9,276.4 L862.5,276.6 L864.1,276.8 L863.5,278.3 L862.7,279.7" fill="none" stroke="#f1c40f" stroke-width="6.10" stroke-linejoin="round" stroke-linecap="butt" stroke-dasharray="6.10 7.90" stroke-dashoffset="13.39"/>
<path d="M863.5,278.3 L862.7,279.7 L861.7,281.0 L860.6,282.1 L859.4,283.2 L858.1,284.0 L856.7,284.8 L855.2,285.5 L853.7,286.0 L852.2,286.6 L850.7,287.1 L849.2,287.6 L847.7,288.1 L846.1,288.6 L844.6,289.0 L843.1,289.5 L841.5,289.9 L840.0,290.3 L838.4,290.7 L836.9,291.1 L835.3,291.5 L833.8,291.9 L832.2,292.3 L830.6,292.6 L829.1,293.0 L827.5,293.3 L826.0,293.7 L824.4,294.0 L822.8,294.4 L821.3,294.7 L819.7,295.0 L818.1,295.4" fill="none" stroke="#f1c40f" stroke-width="6.10" stroke-linejoin="round" stroke-linecap="butt" stroke-dasharray="6.10 7.90" stroke-dashoffset="2.42"/>
<path d="M819.7,295.0 L818.1,295.4 L816.6,295.7 L815.0,296.0 L813.4,296.3 L811.9,296.7 L810.3,297.0 L808.7,297.3 L807.2,297.6 L805.6,298.0 L804.0,298.3 L802.5,298.6 L800.9,299.0 L799.3,299.3 L797.8,299.6 L796.2,300.0 L794.6,300.3 L793.1,300.6 L791.5,301.0 L789.9,301.3 L788.4,301.6 L786.8,302.0 L785.2,302.3 L783.7,302.7 L782.1,303.0 L780.6,303.3 L779.0,303.7 L777.4,304.0 L775.9,304.3 L774.3,304.7 L772.7,305.0 L771.2,305.4 L769.6,305.7 L768.0,306.0 L766.5,306.4 L764.9,306.7 L763.3,307.0 L761.8,307.4 L760.2,307.7 L758.6,308.0 L757.1,308.4 L755.5,308.7 L753.9,309.0 L752.4,309.4 L750.8,309.7 L749.3,310.0 L747.7,310.4 L746.1,310.7 L744.6,311.0 L743.0,311.3 L741.4,311.7 L739.8,312.0 L738.3,312.3 L736.7,312.6 L735.1,313.0 L733.6,313.3 L732.0,313.6 L730.4,313.9 L728.9,314.2 L727.3,314.5 L725.7,314.9 L724.2,315.2 L722.6,315.5 L721.0,315.8 L719.4,316.1 L717.9,316.4 L716.3,316.7 L714.7,317.0 L713.2,317.3" fill="none" stroke="#f1c40f" stroke-width="6.10" stroke-linejoin="round" stroke-linecap="butt" stroke-dasharray="6.10 7.90" stroke-dashoffset="12.14"/>
<path d="M714.7,317.0 L713.2,317.3 L711.6,317.6 L710.0,318.0 L708.5,318.3 L706.9,318.6 L705.3,318.9 L703.8,319.2 L702.2,319.6 L700.6,319.9 L699.1,320.3 L697.5,320.6 L695.9,321.0 L694.4,321.4 L692.8,321.8 L691.3,322.2 L689.7,322.6 L688.2,323.0 L686.7,323.4 L685.1,323.8 L683.6,324.3 L682.0,324.8 L680.5,325.3 L679.0,325.8 L677.5,326.3 L676.0,326.8 L674.5,327.4 L673.0,327.9 L671.5,328.5 L670.0,329.2 L668.5,329.8 L667.1,330.4 L665.6,331.1 L664.2,331.8 L662.8,332.5 L661.4,333.3 L660.0,334.1 L658.6,334.9 L657.2,335.7 L655.8,336.5 L654.5,337.4 L653.2,338.3 L651.9,339.2 L650.6,340.2 L649.3,341.2 L648.1,342.2 L646.8,343.2 L645.6,344.2 L644.4,345.3 L643.2,346.4 L642.0,347.4 L640.9,348.5 L639.7,349.7 L638.6,350.8 L637.5,351.9 L636.4,353.1 L635.3,354.3 L634.2,355.4 L633.1,356.6 L632.1,357.8 L631.0,359.0 L630.0,360.2 L628.9,361.4 L627.9,362.7 L626.9,363.9 L625.8,365.1 L624.8,366.4 L623.8,367.6 L622.8,368.9 L621.8,370.1 L620.8,371.3 L619.8,372.6 L618.8,373.8 L617.8,375.1 L616.8,376.4 L615.8,377.6 L614.8,378.9 L613.8,380.1 L612.8,381.4 L611.8,382.6 L610.8,383.8 L609.8,385.1 L608.8,386.3 L607.8,387.6 L606.8,388.8 L605.8,390.1 L604.8,391.3 L603.8,392.6 L602.8,393.9 L601.8,395.1 L600.9,396.4 L599.9,397.7 L598.9,398.9 L598.0,400.2 L597.0,401.5 L596.1,402.8 L595.1,404.1 L594.2,405.4 L593.3,406.7 L592.4,408.0 L591.5,409.4 L590.6,410.7 L589.7,412.0" fill="none" stroke="#f1c40f" stroke-width="6.10" stroke-linejoin="round" stroke-linecap="butt" stroke-dasharray="6.10 7.90" stroke-dashoffset="9.27"/>
<path d="M590.6,410.7 L589.7,412.0 L588.9,413.4 L588.0,414.7 L587.2,416.1 L586.4,417.5 L585.5,418.9 L584.8,420.3 L584.0,421.7 L583.2,423.1 L582.5,424.5 L581.7,425.9 L581.0,427.3 L580.2,428.7 L579.5,430.1 L578.7,431.6 L578.0,433.0 L577.2,434.4 L576.5,435.8 L575.7,437.2 L574.9,438.6 L574.1,440.0 L573.3,441.4 L572.5,442.7 L571.7,444.1 L570.8,445.5 L569.9,446.8 L569.0,448.1 L568.1,449.4 L567.2,450.7 L566.2,452.0 L565.2,453.2 L564.2,454.5 L563.1,455.6 L562.0,456.8 L560.8,457.9 L559.6,459.0 L558.4,460.0 L557.1,460.9 L555.8,461.8 L554.4,462.7 L553.0,463.4 L551.5,464.0 L550.0,464.6 L548.5,465.0 L546.9,465.3 L545.3,465.5 L543.7,465.6 L542.1,465.6 L540.5,465.6 L538.9,465.4 L537.3,465.2 L535.8,464.9 L534.2,464.5 L532.7,464.1 L531.1,463.6 L529.6,463.1 L528.1,462.5 L526.7,461.9 L525.2,461.2 L523.8,460.5 L522.3,459.8 L520.9,459.0 L519.5,458.3 L518.1,457.5 L516.7,456.7 L515.3,455.9 L513.9,455.1 L512.6,454.3 L511.2,453.5 L509.8,452.6 L508.5,451.8 L507.1,450.9 L505.8,450.0 L504.4,449.2 L503.1,448.3 L501.8,447.4 L500.4,446.6 L499.1,445.7 L497.7,444.8 L496.4,443.9 L495.0,443.1 L493.7,442.2 L492.3,441.4 L491.0,440.5 L489.6,439.7 L488.2,438.9 L486.9,438.0 L485.5,437.2 L484.1,436.4 L482.7,435.7 L481.3,434.9 L479.9,434.2 L478.4,433.4 L477.0,432.7 L475.6,432.0 L474.1,431.3 L472.7,430.6 L471.2,430.0 L469.8,429.3 L468.3,428.7 L466.8,428.1 L465.3,427.4 L463.9,426.8 L462.4,426.3 L460.9,425.7 L459.4,425.1 L457.9,424.5 L456.4,424.0 L454.9,423.5 L453.4,422.9 L451.8,422.4 L450.3,421.9 L448.8,421.4 L447.3,420.9 L445.8,420.4 L444.2,420.0" fill="none" stroke="#f1c40f" stroke-width="6.10" stroke-linejoin="round" stroke-linecap="butt" stroke-dasharray="6.10 7.90" stroke-dashoffset="2.21"/>
<path d="M445.8,420.4 L444.2,420.0 L442.7,419.5 L441.2,419.1 L439.6,418.6 L438.1,418.2 L436.5,417.7 L435.0,417.3 L433.4,416.9 L431.9,416.5 L430.3,416.1 L428.8,415.7 L427.2,415.3 L425.7,415.0 L424.1,414.6 L422.6,414.2 L421.0,413.9 L419.4,413.5 L417.9,413.2 L416.3,412.8 L414.8,412.5 L413.2,412.2 L411.6,411.9 L410.0,411.5 L408.5,411.2 L406.9,410.9 L405.3,410.6 L403.8,410.4 L402.2,410.1 L400.6,409.8 L399.0,409.5 L397.4,409.3 L395.9,409.0 L394.3,408.8 L392.7,408.5 L391.1,408.3 L389.5,408.0 L388.0,407.8 L386.4,407.6 L384.8,407.4 L383.2,407.2 L381.6,406.9 L380.0,406.7 L378.4,406.5 L376.8,406.3 L375.3,406.2 L373.7,406.0 L372.1,405.8 L370.5,405.6 L368.9,405.4 L367.3,405.3 L365.7,405.1 L364.1,405.0 L362.5,404.8 L360.9,404.7 L359.3,404.5 L357.7,404.4 L356.1,404.2 L354.6,404.1 L353.0,404.0 L351.4,403.9 L349.8,403.7 L348.2,403.6 L346.6,403.5 L345.0,403.4 L343.4,403.3 L341.8,403.2 L340.2,403.1 L338.6,403.0 L337.0,402.9 L335.4,402.8 L333.8,402.7" fill="none" stroke="#f1c40f" stroke-width="6.10" stroke-linejoin="round" stroke-linecap="butt" stroke-dasharray="6.10 7.90" stroke-dashoffset="2.95"/>
<path d="M335.4,402.8 L333.8,402.7 L332.2,402.6 L330.6,402.5 L329.0,402.4 L327.4,402.4 L325.8,402.3 L324.2,402.2 L322.6,402.2 L321.0,402.1 L319.4,402.0 L317.8,402.0 L316.2,401.9 L314.6,401.8 L313.0,401.8 L311.4,401.7 L309.8,401.7 L308.2,401.6 L306.6,401.6 L305.0,401.5 L303.4,401.5 L301.8,401.4 L300.2,401.4 L298.6,401.3 L297.0,401.3 L295.4,401.3 L293.8,401.2 L292.2,401.2 L290.6,401.1 L289.0,401.1 L287.4,401.1 L285.8,401.0 L284.2,401.0 L282.6,401.0 L281.0,400.9 L279.4,400.9" fill="none" stroke="#f1c40f" stroke-width="6.10" stroke-linejoin="round" stroke-linecap="butt" stroke-dasharray="6.10 7.90" stroke-dashoffset="4.28"/>
<path d="M279.4,394.2 L281.0,394.0 L282.6,393.9 L284.2,393.7 L285.8,393.6 L287.4,393.4 L289.0,393.3 L290.6,393.2 L292.2,393.1 L293.8,392.9 L295.4,392.8 L297.0,392.7 L298.6,392.6 L300.2,392.5 L301.8,392.4 L303.4,392.3 L305.0,392.3 L306.6,392.2 L308.2,392.1 L309.8,392.0 L311.4,392.0 L313.0,391.9 L314.6,391.8 L316.2,391.8 L317.8,391.7 L319.4,391.7 L321.0,391.6 L322.6,391.6 L324.2,391.5 L325.8,391.5 L327.4,391.5 L329.0,391.4 L330.6,391.4 L332.2,391.3 L333.8,391.3 L335.4,391.3 L337.0,391.2 L338.6,391.2 L340.2,391.2 L341.8,391.1 L343.4,391.1 L345.0,391.1 L346.7,391.0 L348.3,391.0 L349.9,391.0 L351.5,390.9 L353.1,390.9 L354.7,390.9 L356.3,390.8 L357.9,390.8 L359.5,390.8 L361.1,390.7 L362.7,390.7 L364.3,390.6 L365.9,390.6 L367.5,390.5 L369.1,390.5 L370.7,390.4 L372.3,390.3 L373.9,390.3 L375.5,390.2 L377.1,390.1 L378.7,390.1 L380.3,390.0 L381.9,389.9 L383.5,389.8 L385.1,389.7 L386.7,389.6 L388.3,389.5 L389.9,389.4 L391.5,389.3 L393.1,389.2 L394.7,389.1 L396.3,389.0 L397.9,388.8 L399.5,388.7 L401.1,388.6 L402.7,388.4 L404.3,388.3 L405.9,388.1 L407.5,387.9 L409.1,387.7 L410.7,387.6 L412.3,387.4 L413.9,387.2 L415.4,387.0 L417.0,386.7 L418.6,386.5 L420.2,386.3 L421.8,386.0 L423.4,385.8 L425.0,385.5 L426.5,385.3 L428.1,385.0 L429.7,384.7 L431.3,384.4 L432.8,384.1 L434.4,383.8 L436.0,383.5 L437.6,383.1 L439.1,382.8 L440.7,382.4 L442.2,382.1 L443.8,381.7 L445.4,381.3 L446.9,380.9 L448.5,380.5 L450.0,380.1 L451.6,379.6 L453.1,379.2 L454.6,378.7 L456.2,378.3 L457.7,377.8 L459.2,377.3 L460.7,376.8 L462.3,376.3 L463.8,375.7 L465.3,375.2 L466.8,374.6 L468.3,374.1 L469.8,373.5 L471.3,372.9 L472.7,372.3 L474.2,371.7 L475.7,371.0 L477.2,370.4 L478.6,369.7 L480.1,369.0 L481.5,368.4 L483.0,367.7 L484.4,366.9 L485.8,366.2 L487.3,365.5 L488.7,364.7 L490.1,363.9 L491.5,363.2 L492.9,362.4 L494.2,361.5 L495.6,360.7 L497.0,359.8 L498.3,359.0 L499.6,358.1 L501.0,357.2 L502.3,356.2 L503.6,355.3 L504.8,354.3 L506.1,353.3 L507.4,352.3 L508.6,351.3 L509.8,350.2 L511.0,349.2 L512.2,348.1 L513.3,347.0 L514.4,345.8 L515.5,344.7 L516.6,343.5 L517.7,342.3 L518.7,341.0 L519.7,339.8 L520.7,338.5 L521.6,337.2 L522.5,335.9 L523.4,334.5 L524.2,333.2 L525.1,331.8 L525.8,330.4 L526.6,329.0 L527.3,327.5 L528.0,326.1 L528.7,324.6 L529.3,323.2 L530.0,321.7 L530.6,320.2 L531.2,318.8 L531.8,317.3 L532.5,315.8 L533.1,314.3 L533.7,312.8 L534.3,311.4 L534.9,309.9 L535.6,308.4 L536.2,306.9 L536.9,305.5 L537.6,304.0 L538.3,302.6 L539.0,301.2 L539.7,299.7 L540.5,298.3 L541.2,296.9 L542.0,295.5 L542.7,294.1 L543.5,292.7 L544.2,291.2 L545.0,289.8 L545.7,288.4 L546.4,287.0 L547.2,285.5 L547.9,284.1 L548.5,282.6 L549.2,281.2 L549.9,279.7 L550.5,278.2 L551.1,276.7 L551.7,275.3 L552.2,273.7 L552.8,272.2 L553.3,270.7 L553.8,269.2 L554.3,267.7 L554.9,266.2 L555.4,264.7 L556.0,263.2 L556.5,261.7 L557.1,260.2 L557.7,258.7 L558.4,257.2 L559.0,255.7 L559.7,254.3 L560.3,252.8 L561.0,251.4 L561.7,249.9 L562.3,248.5 L563.0,247.0 L563.7,245.6 L564.4,244.1 L565.1,242.7 L565.8,241.2 L566.5,239.8 L567.2,238.3 L567.9,236.9 L568.6,235.4 L569.2,234.0 L569.9,232.5 L570.6,231.1 L571.2,229.6 L571.9,228.1 L572.5,226.7 L573.1,225.2 L573.7,223.7 L574.3,222.2 L574.9,220.7 L575.5,219.2 L576.0,217.7 L576.6,216.2 L577.2,214.7 L577.7,213.2 L578.3,211.7 L578.8,210.2 L579.4,208.7 L579.9,207.2 L580.5,205.7 L581.0,204.2 L581.6,202.7 L582.2,201.2 L582.7,199.7 L583.3,198.2 L583.9,196.7 L584.5,195.2 L585.2,193.7 L585.8,192.3 L586.4,190.8 L587.1,189.3 L587.8,187.9 L588.5,186.4 L589.2,185.0 L589.9,183.6 L590.7,182.2 L591.5,180.8 L592.3,179.4 L593.1,178.0 L594.0,176.7 L594.9,175.4 L595.9,174.1 L596.9,172.8 L598.0,171.6 L599.1,170.5 L600.2,169.4 L601.4,168.3 L602.7,167.3 L604.0,166.4 L605.4,165.6 L606.8,164.8 L608.2,164.1 L609.7,163.4 L611.2,162.8 L612.7,162.3 L614.2,161.8 L615.8,161.4 L617.3,161.1 L618.9,160.8 L620.5,160.6 L622.1,160.4 L623.7,160.4 L625.3,160.3 L626.9,160.4 L628.5,160.4 L630.1,160.6 L631.7,160.8 L633.3,161.1 L634.8,161.4 L636.4,161.8 L637.9,162.3 L639.4,162.8 L640.9,163.4 L642.4,164.0 L643.9,164.7 L645.3,165.4 L646.7,166.1 L648.1,166.9 L649.5,167.7 L650.9,168.6 L652.2,169.4 L653.6,170.3 L654.9,171.2 L656.2,172.1 L657.5,173.1 L658.8,174.0 L660.1,175.0 L661.4,175.9 L662.7,176.9 L663.9,177.9 L665.2,178.8 L666.5,179.8 L667.8,180.7 L669.1,181.7 L670.4,182.6 L671.7,183.6 L673.0,184.5 L674.3,185.4 L675.6,186.3 L676.9,187.3 L678.3,188.2 L679.6,189.1 L680.9,189.9 L682.3,190.8 L683.6,191.7 L684.9,192.6 L686.3,193.4 L687.7,194.3 L689.0,195.1 L690.4,196.0 L691.8,196.8 L693.1,197.6 L694.5,198.4 L695.9,199.3 L697.3,200.1 L698.7,200.8 L700.1,201.6 L701.5,202.4 L702.9,203.2 L704.3,203.9 L705.7,204.7 L707.1,205.4 L708.6,206.2 L710.0,206.9 L711.4,207.6 L712.9,208.3 L714.3,209.0 L715.7,209.7 L717.2,210.4 L718.6,211.1 L720.1,211.8 L721.6,212.4 L723.0,213.1 L724.5,213.7 L726.0,214.4 L727.4,215.0 L728.9,215.6 L730.4,216.2 L731.9,216.8 L733.4,217.4 L734.9,218.0 L736.4,218.6 L737.9,219.2 L739.4,219.7 L740.9,220.3 L742.4,220.8 L743.9,221.4 L745.4,221.9 L746.9,222.4 L748.4,223.0 L749.9,223.5 L751.5,224.0 L753.0,224.5 L754.5,225.0 L756.0,225.5 L757.6,225.9 L759.1,226.4 L760.6,226.9 L762.2,227.3 L763.7,227.8 L765.2,228.2 L766.8,228.7 L768.3,229.1 L769.9,229.5 L771.4,230.0 L773.0,230.4 L774.5,230.8 L776.1,231.2 L777.6,231.6 L779.2,232.0 L780.7,232.4 L782.3,232.8 L783.8,233.2 L785.4,233.5 L787.0,233.9 L788.5,234.3 L790.1,234.6 L791.7,235.0 L793.2,235.4 L794.8,235.7 L796.3,236.1 L797.9,236.4 L799.5,236.7 L801.0,237.1 L802.6,237.4 L804.2,237.7 L805.8,238.1 L807.3,238.4 L808.9,238.7 L810.5,239.0 L812.0,239.3 L813.6,239.7 L815.2,240.0 L816.8,240.3 L818.3,240.6 L819.9,240.9 L821.5,241.2 L823.1,241.5 L824.6,241.8 L826.2,242.1 L827.8,242.4 L829.4,242.6 L830.9,242.9 L832.5,243.2 L834.1,243.5 L835.7,243.8 L837.3,244.1 L838.8,244.4 L840.4,244.6 L842.0,244.9 L843.6,245.2 L845.1,245.5 L846.7,245.8 L848.3,246.0 L849.9,246.3 L851.5,246.6 L853.0,246.9 L854.6,247.1 L856.2,247.4 L857.8,247.7 L859.4,248.0 L860.9,248.2 L862.5,248.5 L864.1,248.8 L863.5,250.3 L862.8,251.7 L862.0,253.1 L861.1,254.4 L860.0,255.6 L858.9,256.8 L857.8,257.9 L856.5,258.9 L855.2,259.8 L853.9,260.7 L852.5,261.6 L851.1,262.3 L849.7,263.1 L848.3,263.8 L846.8,264.5 L845.4,265.2 L843.9,265.8 L842.4,266.4 L840.9,267.0 L839.4,267.5 L837.9,268.1 L836.4,268.6 L834.9,269.1 L833.4,269.6 L831.9,270.1 L830.3,270.6 L828.8,271.1 L827.3,271.6 L825.8,272.0 L824.2,272.5 L822.7,273.0 L821.2,273.4 L819.6,273.9 L818.1,274.3 L816.5,274.7 L815.0,275.2 L813.4,275.6 L811.9,276.0 L810.4,276.4 L808.8,276.8 L807.3,277.2 L805.7,277.6 L804.2,278.0 L802.6,278.4 L801.1,278.8 L799.5,279.2 L797.9,279.6 L796.4,279.9 L794.8,280.3 L793.3,280.7 L791.7,281.0 L790.2,281.4 L788.6,281.8 L787.0,282.1 L785.5,282.5 L783.9,282.8 L782.3,283.1 L780.8,283.5 L779.2,283.8 L777.6,284.2 L776.1,284.5 L774.5,284.8 L772.9,285.2 L771.4,285.5 L769.8,285.8 L768.2,286.1 L766.7,286.5 L765.1,286.8 L763.5,287.1 L762.0,287.4 L760.4,287.8 L758.8,288.1 L757.3,288.4 L755.7,288.7 L754.1,289.1 L752.6,289.4 L751.0,289.7 L749.4,290.0 L747.9,290.4 L746.3,290.7 L744.7,291.0 L743.2,291.4 L741.6,291.7 L740.0,292.1 L738.5,292.4 L736.9,292.8 L735.4,293.1 L733.8,293.5 L732.2,293.9 L730.7,294.3 L729.1,294.6 L727.6,295.0 L726.0,295.4 L724.5,295.8 L722.9,296.2 L721.4,296.6 L719.8,297.1 L718.3,297.5 L716.8,297.9 L715.2,298.4 L713.7,298.8 L712.2,299.3 L710.6,299.8 L709.1,300.2 L707.6,300.7 L706.1,301.2 L704.5,301.7 L703.0,302.3 L701.5,302.8 L700.0,303.3 L698.5,303.9 L697.0,304.4 L695.5,305.0 L694.0,305.6 L692.5,306.2 L691.1,306.8 L689.6,307.4 L688.1,308.1 L686.6,308.7 L685.2,309.4 L683.7,310.0 L682.3,310.7 L680.8,311.4 L679.4,312.1 L678.0,312.8 L676.5,313.6 L675.1,314.3 L673.7,315.0 L672.3,315.8 L670.9,316.6 L669.5,317.3 L668.1,318.1 L666.7,318.9 L665.3,319.7 L663.9,320.6 L662.6,321.4 L661.2,322.2 L659.9,323.1 L658.5,323.9 L657.2,324.8 L655.8,325.7 L654.5,326.6 L653.2,327.5 L651.9,328.4 L650.6,329.4 L649.3,330.3 L648.0,331.3 L646.7,332.3 L645.5,333.2 L644.3,334.3 L643.0,335.3 L641.8,336.3 L640.6,337.4 L639.4,338.5 L638.3,339.6 L637.1,340.7 L636.0,341.8 L634.8,342.9 L633.7,344.1 L632.6,345.3 L631.6,346.4 L630.5,347.6 L629.5,348.9 L628.4,350.1 L627.4,351.3 L626.4,352.6 L625.4,353.8 L624.5,355.1 L623.5,356.4 L622.6,357.7 L621.7,359.0 L620.7,360.3 L619.9,361.7 L619.0,363.0 L618.1,364.4 L617.3,365.7 L616.5,367.1 L615.6,368.5 L614.8,369.8 L614.0,371.2 L613.3,372.6 L612.5,374.0 L611.7,375.4 L611.0,376.8 L610.2,378.3 L609.5,379.7 L608.8,381.1 L608.0,382.5 L607.3,384.0 L606.6,385.4 L605.9,386.8 L605.2,388.3 L604.5,389.7 L603.8,391.2 L603.1,392.6 L602.4,394.0 L601.7,395.5 L601.0,396.9 L600.3,398.4 L599.6,399.8 L598.9,401.2 L598.2,402.7 L597.5,404.1 L596.7,405.5 L596.0,407.0 L595.3,408.4 L594.5,409.8 L593.8,411.2 L593.0,412.6 L592.2,414.0 L591.5,415.4 L590.7,416.8 L590.0,418.2 L589.2,419.6 L588.4,421.1 L587.7,422.5 L586.9,423.9 L586.2,425.3 L585.5,426.7 L584.8,428.2 L584.1,429.6 L583.4,431.1 L582.8,432.5 L582.1,434.0 L581.5,435.5 L580.9,437.0 L580.3,438.5 L579.7,439.9 L579.1,441.4 L578.6,442.9 L578.0,444.4 L577.4,445.9 L576.8,447.4 L576.2,448.9 L575.6,450.4 L575.0,451.9 L574.4,453.3 L573.8,454.8 L573.2,456.3 L572.5,457.7 L571.8,459.2 L571.1,460.6 L570.4,462.1 L569.7,463.5 L569.0,464.9 L568.2,466.3 L567.4,467.7 L566.5,469.1 L565.7,470.4 L564.8,471.7 L563.8,473.0 L562.8,474.3 L561.8,475.5 L560.7,476.7 L559.5,477.8 L558.3,478.8 L557.1,479.8 L555.7,480.7 L554.4,481.5 L552.9,482.2 L551.5,482.8 L549.9,483.4 L548.4,483.8 L546.8,484.1 L545.2,484.3 L543.6,484.5 L542.0,484.5 L540.4,484.5 L538.8,484.4 L537.3,484.2 L535.7,483.9 L534.1,483.5 L532.6,483.0 L531.1,482.5 L529.6,482.0 L528.1,481.3 L526.7,480.6 L525.2,479.9 L523.8,479.2 L522.4,478.4 L521.1,477.6 L519.7,476.7 L518.3,475.9 L517.0,475.0 L515.7,474.1 L514.4,473.2 L513.0,472.3 L511.8,471.3 L510.5,470.4 L509.2,469.4 L507.9,468.4 L506.7,467.4 L505.4,466.4 L504.2,465.4 L503.0,464.4 L501.7,463.4 L500.5,462.3 L499.3,461.3 L498.0,460.3 L496.8,459.2 L495.6,458.2 L494.4,457.2 L493.1,456.2 L491.9,455.1 L490.7,454.1 L489.4,453.1 L488.2,452.1 L486.9,451.1 L485.7,450.1 L484.4,449.2 L483.1,448.2 L481.8,447.3 L480.5,446.3 L479.2,445.4 L477.9,444.5 L476.5,443.6 L475.2,442.8 L473.8,441.9 L472.5,441.1 L471.1,440.3 L469.7,439.4 L468.3,438.6 L466.9,437.9 L465.5,437.1 L464.1,436.3 L462.7,435.6 L461.3,434.9 L459.8,434.2 L458.4,433.5 L456.9,432.8 L455.5,432.1 L454.0,431.4 L452.6,430.8 L451.1,430.2 L449.6,429.5 L448.1,428.9 L446.7,428.3 L445.2,427.7 L443.7,427.2 L442.2,426.6 L440.7,426.1 L439.2,425.5 L437.7,425.0 L436.1,424.5 L434.6,424.0 L433.1,423.5 L431.6,423.0 L430.0,422.5 L428.5,422.1 L427.0,421.6 L425.4,421.2 L423.9,420.7 L422.3,420.3 L420.8,419.9 L419.3,419.5 L417.7,419.1 L416.1,418.7 L414.6,418.3 L413.0,418.0 L411.5,417.6 L409.9,417.3 L408.3,416.9 L406.8,416.6 L405.2,416.3 L403.6,415.9 L402.1,415.6 L400.5,415.3 L398.9,415.0 L397.4,414.7 L395.8,414.5 L394.2,414.2 L392.6,413.9 L391.0,413.7 L389.5,413.4 L387.9,413.1 L386.3,412.9 L384.7,412.7 L383.1,412.4 L381.5,412.2 L380.0,412.0 L378.4,411.8 L376.8,411.6 L375.2,411.4 L373.6,411.2 L372.0,411.0 L370.4,410.8 L368.8,410.6 L367.2,410.4 L365.7,410.3 L364.1,410.1 L362.5,409.9 L360.9,409.8 L359.3,409.6 L357.7,409.5 L356.1,409.3 L354.5,409.2 L352.9,409.0 L351.3,408.9 L349.7,408.8 L348.1,408.7 L346.5,408.5 L344.9,408.4 L343.3,408.3 L341.7,408.2 L340.1,408.1 L338.5,407.9 L336.9,407.8 L335.3,407.7 L333.8,407.6 L332.2,407.5 L330.6,407.4 L329.0,407.3 L327.4,407.2 L325.8,407.2 L324.2,407.1 L322.6,407.0 L321.0,406.9 L319.4,406.8 L317.8,406.7 L316.2,406.6 L314.6,406.5 L313.0,406.5 L311.4,406.4 L309.8,406.3 L308.2,406.2 L306.6,406.1 L305.0,406.1 L303.4,406.0 L301.8,405.9 L300.2,405.8 L298.6,405.7 L297.0,405.7 L295.4,405.6 L293.8,405.5 L292.2,405.4 L290.6,405.3 L289.0,405.2 L287.4,405.2 L285.8,405.1 L284.2,405.0 L282.6,404.9 L281.0,404.8 L279.4,404.7" fill="none" stroke="#27ae60" stroke-width="6.10" stroke-linejoin="round" stroke-linecap="square"/>
<path d="M279.4,394.0 L281.0,393.9 L282.6,393.8 L284.2,393.7 L285.8,393.6 L287.4,393.5 L289.0,393.4 L290.6,393.3 L292.2,393.2 L293.8,393.1 L295.4,393.0 L297.0,392.9 L298.6,392.9 L300.2,392.8 L301.8,392.7 L303.4,392.7 L305.0,392.6 L306.6,392.6 L308.2,392.5 L309.8,392.5 L311.4,392.4 L313.0,392.4 L314.6,392.3 L316.2,392.3 L317.8,392.2 L319.4,392.2 L321.0,392.2 L322.6,392.1 L324.2,392.1 L325.8,392.1 L327.4,392.0 L329.0,392.0 L330.6,392.0 L332.2,391.9 L333.8,391.9 L335.4,391.9 L337.0,391.8 L338.6,391.8 L340.2,391.8 L341.8,391.7 L343.4,391.7 L345.0,391.7 L346.6,391.6 L348.2,391.6 L349.8,391.5 L351.4,391.5 L353.0,391.5 L354.6,391.4 L356.2,391.4 L357.8,391.3 L359.4,391.3 L361.0,391.2 L362.6,391.1 L364.2,391.1 L365.8,391.0 L367.4,390.9 L369.0,390.9 L370.6,390.8 L372.2,390.7 L373.8,390.6 L375.4,390.5 L377.0,390.4 L378.6,390.3 L380.2,390.2 L381.8,390.1 L383.4,390.0 L385.0,389.9 L386.6,389.8 L388.2,389.6 L389.8,389.5 L391.4,389.4 L392.9,389.2 L394.5,389.1 L396.1,388.9 L397.7,388.7 L399.3,388.6 L400.9,388.4 L402.5,388.2 L404.1,388.0 L405.7,387.8 L407.3,387.6 L408.8,387.4 L410.4,387.1 L412.0,386.9 L413.6,386.7 L415.2,386.4 L416.8,386.2 L418.3,385.9 L419.9,385.6 L421.5,385.3 L423.1,385.1 L424.6,384.8 L426.2,384.5 L427.8,384.1 L429.4,383.8 L430.9,383.5 L432.5,383.1 L434.0,382.8 L435.6,382.4 L437.2,382.0 L438.7,381.7 L440.3,381.3 L441.8,380.8 L443.4,380.4 L444.9,380.0 L446.4,379.6 L448.0,379.1 L449.5,378.6 L451.0,378.1 L452.6,377.7 L454.1,377.1 L455.6,376.6 L457.1,376.1 L458.6,375.5 L460.1,375.0 L461.6,374.4 L463.1,373.8 L464.6,373.2 L466.0,372.6 L467.5,372.0 L469.0,371.3 L470.4,370.6 L471.9,370.0 L473.3,369.3 L474.7,368.5 L476.2,367.8 L477.6,367.0 L479.0,366.3 L480.4,365.5 L481.8,364.7 L483.1,363.9 L484.5,363.0 L485.8,362.2 L487.2,361.3 L488.5,360.4 L489.8,359.5 L491.1,358.5 L492.4,357.6 L493.7,356.6 L494.9,355.6 L496.2,354.6 L497.4,353.5 L498.6,352.5 L499.8,351.4 L500.9,350.3 L502.1,349.2 L503.2,348.1 L504.3,346.9 L505.4,345.7 L506.5,344.6 L507.6,343.4 L508.6,342.2 L509.6,340.9 L510.6,339.7 L511.6,338.4 L512.6,337.2 L513.6,335.9 L514.5,334.6 L515.5,333.3 L516.4,332.0 L517.3,330.6 L518.2,329.3 L519.0,328.0 L519.9,326.6 L520.8,325.3 L521.6,323.9 L522.4,322.5 L523.2,321.2 L524.0,319.8 L524.8,318.4 L525.6,317.0 L526.4,315.6 L527.1,314.2 L527.9,312.8 L528.6,311.3 L529.4,309.9 L530.1,308.5 L530.8,307.1 L531.5,305.6 L532.2,304.2 L532.9,302.8 L533.6,301.3 L534.3,299.9 L535.0,298.4 L535.7,297.0 L536.3,295.5 L537.0,294.1 L537.7,292.6 L538.3,291.1 L539.0,289.7 L539.6,288.2 L540.3,286.7 L540.9,285.3 L541.6,283.8 L542.2,282.3 L542.8,280.9 L543.5,279.4 L544.1,277.9 L544.7,276.5 L545.4,275.0 L546.0,273.5 L546.6,272.1 L547.3,270.6 L547.9,269.1 L548.5,267.6 L549.1,266.2 L549.8,264.7 L550.4,263.2 L551.0,261.7 L551.6,260.3 L552.3,258.8 L552.9,257.3 L553.5,255.8 L554.1,254.4 L554.7,252.9 L555.3,251.4 L556.0,249.9 L556.6,248.4 L557.2,247.0 L557.8,245.5 L558.4,244.0 L559.0,242.5 L559.7,241.1 L560.3,239.6 L560.9,238.1 L561.5,236.6 L562.1,235.1 L562.7,233.7 L563.4,232.2 L564.0,230.7 L564.6,229.2 L565.2,227.8 L565.8,226.3 L566.5,224.8 L567.1,223.3 L567.7,221.9 L568.3,220.4 L568.9,218.9 L569.6,217.4 L570.2,216.0 L570.8,214.5 L571.4,213.0 L572.1,211.5 L572.7,210.1 L573.3,208.6 L574.0,207.1 L574.6,205.7 L575.2,204.2 L575.9,202.7 L576.5,201.2 L577.1,199.8 L577.8,198.3 L578.4,196.8 L579.1,195.4 L579.7,193.9 L580.4,192.5 L581.0,191.0 L581.7,189.5 L582.3,188.1 L583.0,186.6 L583.6,185.1 L584.3,183.7 L585.0,182.2 L585.6,180.8 L586.3,179.3 L587.0,177.9 L587.6,176.4 L588.3,175.0 L589.0,173.5 L589.7,172.1 L590.4,170.7 L591.2,169.2 L591.9,167.8 L592.7,166.4 L593.4,165.0 L594.2,163.6 L595.0,162.2 L595.9,160.9 L596.7,159.5 L597.6,158.2 L598.5,156.9 L599.5,155.5 L600.4,154.3 L601.4,153.0 L602.4,151.8 L603.5,150.6 L604.6,149.4 L605.7,148.2 L606.8,147.1 L608.0,146.1 L609.2,145.0 L610.5,144.0 L611.8,143.1 L613.1,142.2 L614.5,141.3 L615.8,140.5 L617.3,139.8 L618.7,139.1 L620.2,138.5 L621.7,137.9 L623.2,137.4 L624.7,137.0 L626.3,136.7 L627.9,136.4 L629.5,136.3 L631.1,136.2 L632.7,136.3 L634.3,136.4 L635.9,136.7 L637.4,137.0 L639.0,137.4 L640.5,137.8 L642.0,138.3 L643.5,138.9 L645.0,139.5 L646.5,140.2" fill="none" stroke="#3498db" stroke-width="6.10" stroke-linejoin="round" stroke-linecap="butt" stroke-dasharray="22.30 9.30" stroke-dashoffset="27.54"/>
<path d="M645.0,139.5 L646.5,140.2 L647.9,140.9 L649.4,141.6 L650.8,142.3 L652.2,143.1 L653.6,143.8 L655.0,144.6 L656.4,145.4 L657.7,146.3 L659.1,147.1 L660.5,147.9 L661.8,148.8 L663.2,149.6 L664.5,150.5 L665.9,151.3 L667.2,152.2 L668.6,153.1 L669.9,154.0 L671.2,154.9 L672.6,155.8 L673.9,156.7 L675.2,157.6 L676.5,158.5 L677.8,159.4 L679.1,160.3 L680.4,161.3 L681.8,162.2 L683.1,163.1 L684.4,164.0 L685.7,165.0 L687.0,165.9 L688.3,166.8 L689.6,167.7 L690.9,168.7 L692.2,169.6 L693.5,170.5 L694.8,171.4 L696.1,172.4 L697.4,173.3" fill="none" stroke="#3498db" stroke-width="6.10" stroke-linejoin="round" stroke-linecap="butt" stroke-dasharray="22.30 9.30" stroke-dashoffset="26.39"/>
<path d="M696.1,172.4 L697.4,173.3 L698.8,174.2 L700.1,175.1 L701.4,176.0 L702.7,176.9 L704.0,177.8 L705.4,178.7 L706.7,179.6 L708.0,180.5 L709.4,181.3 L710.7,182.2 L712.1,183.1 L713.4,183.9 L714.8,184.8 L716.2,185.6 L717.5,186.4 L718.9,187.2 L720.3,188.0 L721.7,188.8 L723.1,189.6 L724.5,190.4 L725.9,191.2 L727.3,191.9 L728.7,192.6 L730.1,193.4 L731.6,194.1 L733.0,194.8 L734.4,195.5 L735.9,196.2 L737.3,196.9 L738.8,197.6 L740.3,198.2 L741.7,198.9 L743.2,199.5 L744.6,200.2 L746.1,200.8 L747.6,201.4 L749.1,202.0 L750.6,202.6 L752.1,203.2" fill="none" stroke="#3498db" stroke-width="6.10" stroke-linejoin="round" stroke-linecap="butt" stroke-dasharray="22.30 9.30" stroke-dashoffset="26.69"/>
<path d="M750.6,202.6 L752.1,203.2 L753.5,203.8 L755.0,204.3 L756.5,204.9 L758.0,205.5 L759.6,206.0 L761.1,206.5 L762.6,207.1 L764.1,207.6 L765.6,208.1 L767.1,208.6 L768.6,209.1 L770.2,209.6 L771.7,210.1 L773.2,210.5 L774.8,211.0 L776.3,211.5 L777.8,211.9 L779.4,212.4 L780.9,212.8" fill="none" stroke="#3498db" stroke-width="6.10" stroke-linejoin="round" stroke-linecap="butt" stroke-dasharray="22.30 9.30" stroke-dashoffset="27.67"/>
<path d="M779.4,212.4 L780.9,212.8 L782.4,213.2 L784.0,213.7 L785.5,214.1 L787.1,214.5 L788.6,214.9 L790.2,215.3 L791.7,215.7 L793.3,216.1 L794.8,216.5 L796.4,216.8 L798.0,217.2 L799.5,217.6 L801.1,217.9 L802.6,218.3 L804.2,218.6 L805.8,219.0 L807.3,219.3 L808.9,219.6 L810.5,220.0 L812.0,220.3" fill="none" stroke="#3498db" stroke-width="6.10" stroke-linejoin="round" stroke-linecap="butt" stroke-dasharray="22.30 9.30" stroke-dashoffset="26.73"/>
<path d="M810.5,220.0 L812.0,220.3 L813.6,220.6 L815.2,220.9 L816.7,221.2 L818.3,221.6 L819.9,221.9 L821.5,222.2 L823.0,222.5 L824.6,222.7 L826.2,223.0 L827.7,223.3 L829.3,223.6 L830.9,223.9 L832.5,224.2 L834.1,224.4 L835.6,224.7 L837.2,225.0 L838.8,225.2 L840.4,225.5 L842.0,225.8" fill="none" stroke="#3498db" stroke-width="6.10" stroke-linejoin="round" stroke-linecap="butt" stroke-dasharray="22.30 9.30" stroke-dashoffset="26.25"/>
<path d="M840.4,225.5 L842.0,225.8 L843.5,226.0 L845.1,226.3 L846.7,226.5 L848.3,226.8 L849.9,227.0 L851.4,227.3 L853.0,227.5 L854.6,227.8 L856.2,228.0 L857.8,228.2 L859.3,228.5 L860.9,228.7 L862.5,229.0 L864.1,229.2 L864.3,230.8 L864.2,232.4 L864.0,234.0 L863.4,235.5 L862.7,236.9" fill="none" stroke="#3498db" stroke-width="6.10" stroke-linejoin="round" stroke-linecap="butt" stroke-dasharray="22.30 9.30" stroke-dashoffset="28.38"/>
<path d="M863.4,235.5 L862.7,236.9 L861.8,238.2 L860.8,239.4 L859.6,240.6 L858.4,241.6 L857.1,242.5 L855.8,243.4 L854.4,244.2 L853.0,245.0 L851.5,245.7 L850.1,246.3 L848.6,246.9 L847.1,247.6 L845.6,248.2 L844.1,248.7 L842.7,249.3 L841.2,250.0 L839.7,250.6 L838.3,251.3 L836.8,252.0 L835.4,252.7 L834.0,253.4 L832.6,254.2 L831.2,254.9 L829.7,255.7 L828.3,256.4 L826.9,257.2 L825.5,257.9 L824.0,258.6 L822.6,259.3 L821.1,260.0 L819.7,260.6 L818.2,261.2 L816.7,261.9 L815.2,262.5 L813.8,263.1 L812.3,263.6 L810.8,264.2 L809.3,264.7 L807.7,265.3 L806.2,265.8 L804.7,266.3 L803.2,266.8 L801.7,267.2 L800.1,267.7 L798.6,268.2 L797.1,268.6 L795.5,269.0 L794.0,269.5 L792.4,269.9 L790.9,270.3 L789.3,270.7 L787.8,271.1 L786.2,271.5 L784.7,271.8 L783.1,272.2 L781.6,272.6 L780.0,272.9 L778.4,273.3 L776.9,273.6 L775.3,273.9 L773.7,274.3 L772.2,274.6 L770.6,274.9 L769.0,275.3 L767.5,275.6 L765.9,275.9 L764.3,276.2 L762.8,276.5 L761.2,276.9 L759.6,277.2 L758.1,277.5 L756.5,277.8 L754.9,278.1 L753.3,278.4 L751.8,278.8 L750.2,279.1 L748.6,279.4 L747.1,279.7 L745.5,280.1 L743.9,280.4 L742.4,280.7 L740.8,281.1 L739.3,281.4 L737.7,281.8 L736.1,282.1 L734.6,282.5 L733.0,282.8 L731.5,283.2 L729.9,283.6 L728.4,284.0 L726.8,284.4 L725.3,284.8 L723.7,285.2 L722.2,285.6 L720.6,286.1 L719.1,286.5 L717.6,287.0 L716.0,287.4 L714.5,287.9 L713.0,288.4 L711.4,288.9 L709.9,289.4 L708.4,289.9 L706.9,290.5 L705.4,291.0 L703.9,291.6 L702.4,292.2 L700.9,292.7 L699.4,293.3 L698.0,293.9 L696.5,294.6 L695.0,295.2 L693.6,295.9 L692.1,296.5 L690.6,297.2 L689.2,297.9 L687.8,298.6 L686.3,299.3 L684.9,300.0 L683.5,300.7 L682.0,301.5 L680.6,302.2 L679.2,303.0 L677.8,303.8 L676.4,304.6 L675.1,305.4 L673.7,306.2 L672.3,307.0 L670.9,307.8 L669.6,308.7 L668.2,309.5 L666.9,310.4 L665.5,311.3 L664.2,312.2 L662.9,313.1 L661.6,314.0 L660.3,314.9 L659.0,315.8 L657.7,316.8 L656.4,317.7 L655.1,318.7 L653.8,319.7 L652.6,320.6 L651.3,321.6 L650.1,322.6 L648.8,323.7 L647.6,324.7 L646.4,325.7 L645.2,326.8 L644.0,327.8 L642.8,328.9 L641.6,330.0 L640.5,331.1 L639.4,332.3 L638.3,333.5" fill="none" stroke="#3498db" stroke-width="6.10" stroke-linejoin="round" stroke-linecap="butt" stroke-dasharray="22.30 9.30" stroke-dashoffset="26.44"/>
<path d="M639.4,332.3 L638.3,333.5 L637.2,334.6 L636.2,335.9 L635.2,337.1 L634.2,338.4 L633.2,339.7 L632.3,341.0 L631.5,342.3 L630.6,343.7 L629.8,345.1 L629.1,346.5 L628.4,347.9 L627.8,349.4 L627.1,350.9 L626.5,352.4 L626.0,353.9 L625.4,355.4 L624.8,356.9 L624.3,358.4 L623.7,359.8 L623.1,361.3 L622.5,362.8 L621.9,364.3 L621.3,365.8 L620.6,367.2 L619.8,368.6 L619.1,370.0 L618.3,371.4 L617.4,372.8 L616.6,374.1 L615.7,375.5 L614.8,376.8 L613.8,378.1 L612.9,379.4 L612.0,380.7 L611.0,382.0 L610.1,383.2 L609.1,384.5 L608.2,385.8 L607.2,387.1 L606.3,388.4 L605.4,389.7 L604.5,391.1 L603.6,392.4 L602.8,393.8 L602.0,395.1 L601.2,396.5 L600.4,397.9 L599.6,399.3 L598.9,400.8 L598.2,402.2 L597.5,403.6 L596.8,405.1 L596.1,406.5 L595.5,408.0 L594.8,409.5 L594.2,410.9 L593.6,412.4 L592.9,413.9 L592.3,415.4 L591.7,416.8 L591.1,418.3 L590.5,419.8 L589.9,421.3 L589.3,422.8 L588.7,424.3 L588.1,425.7 L587.5,427.2 L586.9,428.7 L586.3,430.2 L585.7,431.7 L585.1,433.2 L584.5,434.6 L583.9,436.1 L583.4,437.6 L582.8,439.1 L582.2,440.6 L581.6,442.1 L581.0,443.6 L580.5,445.1 L579.9,446.6 L579.3,448.1 L578.8,449.6 L578.2,451.1 L577.7,452.6 L577.2,454.1 L576.6,455.6 L576.1,457.1 L575.6,458.6 L575.0,460.1 L574.5,461.7 L574.0,463.2 L573.4,464.7 L572.8,466.2 L572.3,467.6 L571.7,469.1 L571.1,470.6 L570.5,472.1 L569.8,473.6 L569.2,475.0 L568.5,476.5 L567.8,477.9 L567.0,479.3 L566.3,480.7 L565.5,482.1 L564.6,483.5 L563.7,484.8 L562.8,486.1 L561.9,487.4 L560.9,488.7 L559.8,489.9 L558.7,491.0 L557.6,492.1 L556.4,493.2 L555.1,494.2 L553.8,495.1 L552.4,496.0 L551.0,496.7 L549.6,497.5 L548.1,498.1 L546.7,498.7 L545.1,499.2 L543.6,499.6 L542.0,500.0 L540.5,500.3 L538.9,500.5 L537.3,500.6 L535.7,500.7 L534.1,500.7 L532.5,500.6 L530.9,500.5 L529.3,500.3 L527.7,500.0 L526.2,499.7 L524.6,499.3 L523.1,498.8 L521.6,498.3 L520.1,497.7 L518.6,497.0 L517.2,496.3 L515.8,495.5 L514.5,494.7 L513.1,493.7 L511.9,492.8 L510.6,491.8 L509.4,490.7 L508.3,489.6 L507.2,488.4 L506.1,487.2 L505.1,486.0 L504.0,484.8 L503.0,483.6 L502.0,482.3 L501.0,481.1 L499.9,479.9 L498.8,478.7 L497.8,477.5" fill="none" stroke="#3498db" stroke-width="6.10" stroke-linejoin="round" stroke-linecap="butt" stroke-dasharray="22.30 9.30" stroke-dashoffset="29.57"/>
<path d="M498.8,478.7 L497.8,477.5 L496.7,476.4 L495.6,475.2 L494.5,474.0 L493.3,472.9 L492.2,471.8 L491.1,470.7 L489.9,469.5 L488.7,468.5 L487.5,467.4 L486.4,466.3 L485.1,465.3 L483.9,464.2 L482.7,463.2 L481.5,462.2 L480.2,461.2 L479.0,460.2 L477.7,459.2 L476.4,458.2 L475.2,457.3 L473.9,456.3" fill="none" stroke="#3498db" stroke-width="6.10" stroke-linejoin="round" stroke-linecap="butt" stroke-dasharray="22.30 9.30" stroke-dashoffset="26.13"/>
<path d="M475.2,457.3 L473.9,456.3 L472.6,455.4 L471.2,454.5 L469.9,453.6 L468.6,452.7 L467.3,451.8 L465.9,450.9 L464.6,450.0 L463.2,449.2 L461.9,448.3 L460.5,447.5 L459.1,446.7 L457.7,445.9 L456.4,445.1 L455.0,444.3 L453.6,443.5 L452.2,442.7 L450.8,442.0 L449.3,441.2 L447.9,440.5 L446.5,439.7" fill="none" stroke="#3498db" stroke-width="6.10" stroke-linejoin="round" stroke-linecap="butt" stroke-dasharray="22.30 9.30" stroke-dashoffset="26.63"/>
<path d="M447.9,440.5 L446.5,439.7 L445.1,439.0 L443.6,438.3 L442.2,437.6 L440.8,436.9 L439.3,436.3 L437.8,435.6 L436.4,434.9 L434.9,434.3 L433.5,433.7 L432.0,433.0 L430.5,432.4 L429.0,431.8 L427.5,431.3 L426.0,430.7 L424.5,430.1 L423.0,429.6 L421.5,429.0 L420.0,428.5 L418.5,428.0 L417.0,427.4 L415.5,426.9 L413.9,426.5 L412.4,426.0 L410.9,425.5 L409.4,425.0 L407.8,424.6 L406.3,424.2 L404.7,423.7 L403.2,423.3 L401.6,422.9 L400.1,422.5 L398.5,422.1 L397.0,421.7 L395.4,421.3 L393.9,421.0 L392.3,420.6 L390.8,420.3 L389.2,419.9 L387.6,419.6 L386.1,419.3" fill="none" stroke="#3498db" stroke-width="6.10" stroke-linejoin="round" stroke-linecap="butt" stroke-dasharray="22.30 9.30" stroke-dashoffset="26.57"/>
<path d="M387.6,419.6 L386.1,419.3 L384.5,419.0 L382.9,418.7 L381.3,418.4 L379.8,418.1 L378.2,417.8 L376.6,417.5 L375.0,417.2 L373.5,417.0 L371.9,416.7 L370.3,416.5 L368.7,416.2 L367.1,416.0 L365.5,415.8 L364.0,415.6 L362.4,415.3 L360.8,415.1 L359.2,414.9 L357.6,414.7 L356.0,414.5 L354.4,414.4 L352.8,414.2 L351.3,414.0 L349.7,413.8 L348.1,413.7 L346.5,413.5 L344.9,413.3 L343.3,413.2 L341.7,413.0 L340.1,412.9 L338.5,412.8 L336.9,412.6 L335.3,412.5 L333.7,412.4 L332.1,412.2 L330.5,412.1 L328.9,412.0 L327.3,411.9 L325.7,411.8 L324.1,411.7 L322.5,411.6 L321.0,411.5 L319.4,411.4 L317.8,411.3 L316.2,411.2 L314.6,411.1 L313.0,411.0 L311.4,410.9 L309.8,410.8 L308.2,410.7 L306.6,410.6 L305.0,410.5 L303.4,410.4 L301.8,410.4 L300.2,410.3 L298.6,410.2 L297.0,410.1 L295.4,410.0 L293.8,409.9 L292.2,409.9 L290.6,409.8 L289.0,409.7 L287.4,409.6 L285.8,409.5 L284.2,409.5 L282.6,409.4 L281.0,409.3 L279.4,409.2" fill="none" stroke="#3498db" stroke-width="6.10" stroke-linejoin="round" stroke-linecap="butt" stroke-dasharray="22.30 9.30" stroke-dashoffset="26.44"/>
<path d="M279.4,394.0 L281.0,393.8 L282.6,393.6 L284.2,393.5 L285.8,393.3 L287.4,393.2 L289.0,393.0 L290.6,392.9 L292.2,392.8 L293.8,392.7 L295.3,392.6 L296.9,392.5 L298.5,392.4 L300.1,392.3 L301.7,392.2 L303.3,392.1 L304.9,392.1 L306.5,392.0 L308.1,391.9 L309.7,391.9 L311.3,391.8 L312.9,391.8 L314.5,391.7 L316.1,391.7 L317.7,391.6 L319.3,391.6 L320.9,391.6 L322.6,391.6 L324.2,391.5 L325.8,391.5 L327.4,391.5 L329.0,391.5 L330.6,391.4 L332.2,391.4 L333.8,391.4 L335.4,391.4 L337.0,391.4 L338.6,391.4 L340.2,391.4 L341.8,391.4 L343.4,391.3 L345.0,391.3 L346.6,391.3 L348.2,391.3 L349.8,391.3 L351.4,391.3 L353.0,391.2 L354.6,391.2 L356.2,391.2 L357.8,391.2 L359.4,391.1 L361.0,391.1 L362.6,391.1 L364.2,391.0 L365.8,391.0 L367.4,391.0 L369.0,390.9 L370.6,390.9 L372.2,390.8 L373.8,390.7 L375.4,390.7 L377.0,390.6 L378.6,390.5 L380.2,390.5 L381.8,390.4 L383.4,390.3 L385.0,390.2 L386.6,390.1 L388.2,390.0 L389.8,389.8 L391.4,389.7 L393.0,389.6 L394.6,389.4 L396.2,389.3 L397.7,389.1 L399.3,389.0 L400.9,388.8 L402.5,388.6 L404.1,388.4 L405.7,388.2 L407.3,388.0 L408.9,387.8 L410.5,387.5 L412.0,387.3 L413.6,387.0 L415.2,386.8 L416.8,386.5 L418.4,386.2 L419.9,385.9 L421.5,385.6 L423.1,385.3 L424.6,384.9 L426.2,384.6 L427.8,384.2 L429.3,383.9 L430.9,383.5 L432.4,383.1 L434.0,382.7 L435.5,382.3 L437.1,381.8 L438.6,381.4 L440.1,380.9 L441.7,380.4 L443.2,380.0 L444.7,379.5 L446.2,379.0 L447.7,378.4 L449.2,377.9 L450.8,377.3 L452.3,376.8 L453.7,376.2 L455.2,375.6 L456.7,375.0 L458.2,374.4 L459.7,373.7 L461.1,373.1 L462.6,372.4 L464.0,371.8 L465.5,371.1 L466.9,370.4 L468.4,369.6 L469.8,368.9 L471.2,368.2 L472.6,367.4 L474.0,366.6 L475.4,365.8 L476.8,365.0 L478.2,364.2 L479.5,363.4 L480.9,362.5 L482.2,361.7 L483.6,360.8 L484.9,359.9 L486.2,359.0 L487.5,358.1 L488.8,357.1 L490.1,356.2 L491.4,355.2 L492.7,354.2 L493.9,353.2 L495.1,352.2 L496.4,351.2 L497.6,350.2 L498.8,349.1 L500.0,348.0 L501.2,346.9 L502.3,345.8 L503.5,344.7 L504.6,343.6 L505.7,342.4 L506.8,341.3 L507.9,340.1 L509.0,338.9 L510.0,337.7 L511.1,336.5 L512.1,335.3 L513.1,334.0 L514.1,332.8 L515.1,331.5 L516.0,330.2 L517.0,328.9 L517.9,327.6 L518.8,326.3 L519.8,325.0 L520.6,323.7 L521.5,322.3 L522.4,321.0 L523.3,319.6 L524.1,318.3 L524.9,316.9 L525.7,315.5 L526.6,314.1 L527.4,312.7 L528.1,311.4 L528.9,310.0 L529.7,308.5 L530.5,307.1 L531.2,305.7 L531.9,304.3 L532.7,302.9 L533.4,301.5 L534.1,300.0 L534.8,298.6 L535.5,297.1 L536.2,295.7 L536.9,294.3 L537.6,292.8 L538.3,291.4 L538.9,289.9 L539.6,288.4 L540.3,287.0 L540.9,285.5 L541.6,284.1 L542.2,282.6 L542.9,281.1 L543.5,279.7 L544.2,278.2 L544.8,276.7 L545.4,275.3 L546.1,273.8 L546.7,272.3 L547.3,270.8 L548.0,269.4 L548.6,267.9 L549.2,266.4 L549.8,265.0 L550.5,263.5 L551.1,262.0 L551.7,260.5 L552.3,259.1 L553.0,257.6 L553.6,256.1 L554.2,254.6 L554.8,253.2 L555.4,251.7 L556.1,250.2 L556.7,248.7 L557.3,247.2 L557.9,245.8 L558.5,244.3 L559.2,242.8 L559.8,241.3 L560.4,239.9 L561.0,238.4 L561.6,236.9 L562.3,235.4 L562.9,234.0 L563.5,232.5 L564.1,231.0 L564.7,229.5 L565.3,228.0 L566.0,226.6 L566.6,225.1 L567.2,223.6 L567.8,222.1 L568.4,220.7 L569.0,219.2 L569.7,217.7 L570.3,216.2 L570.9,214.7 L571.5,213.3 L572.1,211.8 L572.7,210.3 L573.4,208.8 L574.0,207.3 L574.6,205.9 L575.2,204.4 L575.8,202.9 L576.4,201.4 L577.1,200.0 L577.7,198.5 L578.3,197.0 L578.9,195.5 L579.5,194.1 L580.1,192.6 L580.8,191.1 L581.4,189.6 L582.0,188.1 L582.6,186.7 L583.2,185.2 L583.9,183.7 L584.5,182.2 L585.1,180.8 L585.7,179.3 L586.4,177.8 L587.0,176.3 L587.6,174.9 L588.3,173.4 L588.9,171.9 L589.6,170.5 L590.3,169.0 L591.0,167.6 L591.7,166.2" fill="none" stroke="#154360" stroke-width="6.10" stroke-linejoin="round" stroke-linecap="butt" stroke-dasharray="6.10 9.60" stroke-dashoffset="9.79"/>
<path d="M591.0,167.6 L591.7,166.2 L592.4,164.7 L593.1,163.3 L593.9,161.9 L594.7,160.5 L595.5,159.1 L596.3,157.8 L597.2,156.4 L598.1,155.1 L599.0,153.8 L599.9,152.5 L600.9,151.2 L601.9,150.0 L603.0,148.8 L604.1,147.6 L605.2,146.4 L606.3,145.3 L607.5,144.2 L608.7,143.2 L610.0,142.2 L611.2,141.2 L612.5,140.3 L613.9,139.4 L615.2,138.5 L616.6,137.7 L618.0,137.0 L619.5,136.3 L620.9,135.7 L622.4,135.1 L624.0,134.6 L625.5,134.1 L627.1,133.7 L628.6,133.4 L630.2,133.2 L631.8,133.1 L633.4,133.0 L635.0,133.0 L636.6,133.1 L638.2,133.3 L639.8,133.5 L641.3,133.9 L642.9,134.3 L644.4,134.8 L645.9,135.3 L647.4,135.9 L648.9,136.5 L650.3,137.2 L651.8,137.9 L653.2,138.6 L654.6,139.3 L656.1,140.1 L657.5,140.8 L658.9,141.6 L660.3,142.4 L661.7,143.2 L663.0,144.0 L664.4,144.8 L665.8,145.6 L667.1,146.5 L668.5,147.3 L669.8,148.2 L671.2,149.1 L672.5,149.9 L673.9,150.8 L675.2,151.7 L676.5,152.6 L677.8,153.5 L679.2,154.4 L680.5,155.3 L681.8,156.3 L683.1,157.2 L684.4,158.1 L685.7,159.0 L687.0,160.0 L688.3,160.9 L689.6,161.8 L690.9,162.8 L692.2,163.7 L693.5,164.7 L694.8,165.6 L696.1,166.5 L697.4,167.5 L698.7,168.4 L700.0,169.3 L701.3,170.3 L702.6,171.2 L703.9,172.1 L705.2,173.0 L706.5,173.9 L707.9,174.9 L709.2,175.8 L710.5,176.7 L711.8,177.5 L713.2,178.4" fill="none" stroke="#154360" stroke-width="6.10" stroke-linejoin="round" stroke-linecap="butt" stroke-dasharray="6.10 9.60" stroke-dashoffset="1.66"/>
<path d="M711.8,177.5 L713.2,178.4 L714.5,179.3 L715.9,180.2 L717.2,181.0 L718.6,181.9 L719.9,182.7 L721.3,183.6 L722.7,184.4 L724.1,185.2 L725.5,186.0 L726.8,186.8 L728.2,187.5 L729.7,188.3 L731.1,189.1 L732.5,189.8 L733.9,190.6 L735.3,191.3 L736.8,192.0 L738.2,192.7 L739.6,193.4 L741.1,194.1 L742.5,194.8 L744.0,195.4 L745.4,196.1 L746.9,196.8 L748.4,197.4 L749.8,198.0 L751.3,198.7 L752.8,199.3 L754.3,199.9 L755.8,200.5 L757.3,201.1 L758.7,201.7 L760.2,202.2 L761.7,202.8 L763.2,203.4 L764.7,203.9 L766.2,204.5 L767.8,205.0 L769.3,205.5 L770.8,206.0 L772.3,206.6 L773.8,207.1 L775.3,207.6 L776.9,208.1 L778.4,208.6 L779.9,209.0 L781.4,209.5 L783.0,210.0 L784.5,210.4 L786.0,210.9 L787.6,211.3 L789.1,211.8 L790.7,212.2 L792.2,212.7 L793.7,213.1 L795.3,213.5 L796.8,213.9 L798.4,214.3 L799.9,214.7 L801.5,215.1 L803.0,215.5 L804.6,215.9 L806.1,216.3 L807.7,216.7 L809.3,217.1 L810.8,217.4 L812.4,217.8 L813.9,218.2 L815.5,218.5 L817.0,218.9 L818.6,219.3 L820.2,219.6" fill="none" stroke="#154360" stroke-width="6.10" stroke-linejoin="round" stroke-linecap="butt" stroke-dasharray="6.10 9.60" stroke-dashoffset="11.57"/>
<path d="M818.6,219.3 L820.2,219.6 L821.7,220.0 L823.3,220.3 L824.9,220.7 L826.4,221.0 L828.0,221.3 L829.6,221.7 L831.1,222.0 L832.7,222.3 L834.3,222.7 L835.8,223.0 L837.4,223.3 L839.0,223.6 L840.5,223.9 L842.1,224.3 L843.7,224.6 L845.2,224.9 L846.8,225.2 L848.4,225.5 L850.0,225.8 L851.5,226.1 L853.1,226.5 L854.7,226.8 L856.2,227.1 L857.8,227.4 L859.4,227.7 L861.0,228.0 L862.5,228.3 L864.1,228.6 L864.2,230.2 L864.1,231.8 L863.8,233.4 L863.3,234.9 L862.6,236.3 L861.7,237.7 L860.7,238.9 L859.6,240.1 L858.5,241.2 L857.3,242.3 L856.1,243.4 L854.9,244.4 L853.6,245.4 L852.4,246.4 L851.1,247.3 L849.8,248.2 L848.4,249.1 L847.1,250.0 L845.7,250.8 L844.4,251.7 L843.0,252.5 L841.6,253.2 L840.2,254.0 L838.7,254.7 L837.3,255.4 L835.8,256.1 L834.4,256.8 L832.9,257.4 L831.5,258.0 L830.0,258.6 L828.5,259.2 L827.0,259.8 L825.5,260.4 L824.0,261.0 L822.5,261.5 L821.0,262.0 L819.5,262.5 L817.9,263.0 L816.4,263.5 L814.9,264.0 L813.4,264.5 L811.8,265.0 L810.3,265.4 L808.8,265.9 L807.2,266.4 L805.7,266.8 L804.2,267.3 L802.6,267.7 L801.1,268.1 L799.5,268.6 L798.0,269.0 L796.5,269.4 L794.9,269.9 L793.4,270.3 L791.8,270.7 L790.3,271.2 L788.7,271.6 L787.2,272.0 L785.7,272.4 L784.1,272.9 L782.6,273.3 L781.0,273.7 L779.5,274.1 L777.9,274.6 L776.4,275.0 L774.9,275.4 L773.3,275.8 L771.8,276.3 L770.2,276.7 L768.7,277.1 L767.1,277.5 L765.6,278.0 L764.0,278.4 L762.5,278.8 L761.0,279.2 L759.4,279.7 L757.9,280.1 L756.3,280.5 L754.8,281.0 L753.3,281.4 L751.7,281.9 L750.2,282.3" fill="none" stroke="#154360" stroke-width="6.10" stroke-linejoin="round" stroke-linecap="butt" stroke-dasharray="6.10 9.60" stroke-dashoffset="3.97"/>
<path d="M751.7,281.9 L750.2,282.3 L748.6,282.8 L747.1,283.2 L745.6,283.7 L744.0,284.1 L742.5,284.6 L741.0,285.0 L739.4,285.5 L737.9,286.0 L736.4,286.4 L734.9,286.9 L733.3,287.4 L731.8,287.9 L730.3,288.4 L728.7,288.9 L727.2,289.4 L725.7,289.9 L724.2,290.4 L722.7,290.9 L721.2,291.4 L719.6,291.9 L718.1,292.4 L716.6,293.0 L715.1,293.5 L713.6,294.1 L712.1,294.6 L710.6,295.2 L709.1,295.7 L707.6,296.3 L706.1,296.9 L704.6,297.5 L703.1,298.1 L701.7,298.7 L700.2,299.3 L698.7,299.9 L697.2,300.5 L695.8,301.2 L694.3,301.8 L692.8,302.5 L691.4,303.1 L689.9,303.8 L688.5,304.5 L687.0,305.2 L685.6,305.9 L684.2,306.6 L682.7,307.3 L681.3,308.1 L679.9,308.8 L678.5,309.6 L677.1,310.3 L675.7,311.1 L674.3,311.9 L672.9,312.7 L671.5,313.6 L670.2,314.4 L668.8,315.2 L667.5,316.1 L666.1,317.0 L664.8,317.9 L663.5,318.8 L662.2,319.7 L660.9,320.6 L659.6,321.6 L658.3,322.5 L657.0,323.5 L655.8,324.5 L654.5,325.5 L653.3,326.5 L652.1,327.6 L650.9,328.6 L649.7,329.7 L648.5,330.8 L647.3,331.9 L646.2,333.0 L645.1,334.1 L644.0,335.3 L642.9,336.5 L641.8,337.7 L640.7,338.9 L639.7,340.1 L638.7,341.3 L637.7,342.6 L636.7,343.8 L635.7,345.1 L634.8,346.4 L633.9,347.7 L632.9,349.0 L632.1,350.3 L631.2,351.7 L630.3,353.0 L629.5,354.4 L628.7,355.8 L627.8,357.1 L627.0,358.5 L626.3,359.9 L625.5,361.3 L624.7,362.7 L624.0,364.1 L623.2,365.6 L622.5,367.0 L621.8,368.4 L621.0,369.9 L620.3,371.3 L619.6,372.7 L618.9,374.2 L618.3,375.6 L617.6,377.1 L616.9,378.5 L616.2,380.0 L615.5,381.4 L614.9,382.9 L614.2,384.3 L613.6,385.8 L612.9,387.2 L612.2,388.7 L611.6,390.2 L610.9,391.6 L610.3,393.1 L609.6,394.5 L608.9,396.0 L608.3,397.5 L607.6,398.9 L607.0,400.4 L606.4,401.9 L605.7,403.3 L605.1,404.8 L604.4,406.3 L603.8,407.7 L603.2,409.2 L602.5,410.7 L601.9,412.1 L601.3,413.6 L600.6,415.1 L600.0,416.6 L599.4,418.0 L598.8,419.5 L598.2,421.0 L597.5,422.5 L596.9,424.0 L596.3,425.4 L595.7,426.9 L595.1,428.4 L594.5,429.9 L593.9,431.4 L593.3,432.9 L592.7,434.3 L592.1,435.8 L591.6,437.3 L591.0,438.8 L590.4,440.3 L589.8,441.8 L589.2,443.3 L588.7,444.8 L588.1,446.3 L587.5,447.8 L587.0,449.3 L586.4,450.8 L585.8,452.3 L585.2,453.8 L584.7,455.3 L584.1,456.8 L583.5,458.3 L583.0,459.8 L582.4,461.2 L581.8,462.7 L581.2,464.2 L580.7,465.7 L580.1,467.2 L579.5,468.7 L578.9,470.2 L578.3,471.7 L577.7,473.2" fill="none" stroke="#154360" stroke-width="6.10" stroke-linejoin="round" stroke-linecap="butt" stroke-dasharray="6.10 9.60" stroke-dashoffset="12.84"/>
<path d="M578.3,471.7 L577.7,473.2 L577.2,474.7 L576.6,476.2 L576.0,477.6 L575.4,479.1 L574.8,480.6 L574.2,482.1 L573.5,483.6 L572.9,485.1 L572.3,486.5 L571.7,488.0 L571.1,489.5 L570.4,491.0 L569.8,492.4 L569.2,493.9 L568.5,495.4 L567.9,496.8 L567.2,498.3 L566.5,499.7 L565.9,501.2 L565.2,502.6 L564.5,504.1 L563.8,505.5 L563.1,507.0 L562.4,508.4 L561.7,509.9 L561.0,511.3 L560.2,512.7 L559.4,514.1 L558.6,515.5 L557.8,516.8 L556.9,518.2 L556.0,519.5 L555.0,520.8 L554.0,522.0 L553.0,523.2 L551.9,524.4 L550.7,525.5 L549.5,526.5 L548.2,527.5 L546.9,528.4 L545.5,529.2 L544.1,529.9 L542.6,530.6 L541.1,531.1 L539.6,531.5 L538.0,531.8 L536.4,531.9 L534.8,531.9 L533.2,531.8 L531.6,531.5 L530.1,531.0 L528.6,530.5 L527.1,529.8 L525.7,529.1 L524.3,528.3 L523.0,527.4 L521.6,526.5 L520.4,525.6 L519.1,524.6 L517.9,523.5 L516.7,522.4 L515.5,521.4 L514.4,520.2 L513.3,519.1 L512.2,518.0 L511.0,516.8 L510.0,515.6 L508.9,514.4 L507.8,513.3 L506.7,512.1 L505.7,510.9 L504.6,509.7 L503.6,508.4 L502.5,507.2 L501.5,506.0 L500.5,504.8 L499.4,503.6 L498.4,502.3 L497.4,501.1 L496.3,499.9 L495.3,498.7 L494.2,497.5 L493.2,496.2 L492.2,495.0 L491.1,493.8 L490.0,492.6 L489.0,491.4 L487.9,490.2 L486.8,489.1 L485.7,487.9 L484.6,486.7 L483.5,485.6 L482.4,484.4 L481.3,483.3 L480.2,482.1 L479.0,481.0 L477.9,479.9 L476.7,478.8 L475.6,477.7 L474.4,476.6 L473.2,475.5 L472.1,474.4 L470.9,473.3 L469.7,472.3 L468.5,471.2 L467.3,470.2 L466.0,469.1 L464.8,468.1 L463.6,467.1 L462.3,466.1 L461.1,465.1 L459.8,464.1 L458.6,463.1 L457.3,462.1 L456.0,461.2 L454.7,460.2 L453.4,459.3 L452.1,458.4 L450.8,457.5 L449.5,456.6 L448.1,455.7 L446.8,454.8 L445.4,453.9 L444.1,453.1 L442.7,452.2 L441.4,451.4 L440.0,450.6 L438.6,449.8 L437.2,449.0 L435.8,448.2 L434.4,447.4 L433.0,446.6 L431.6,445.9 L430.2,445.1 L428.8,444.4 L427.3,443.7 L425.9,443.0 L424.4,442.3 L423.0,441.6 L421.5,440.9 L420.1,440.3 L418.6,439.6" fill="none" stroke="#154360" stroke-width="6.10" stroke-linejoin="round" stroke-linecap="butt" stroke-dasharray="6.10 9.60" stroke-dashoffset="2.68"/>
<path d="M420.1,440.3 L418.6,439.6 L417.2,439.0 L415.7,438.3 L414.2,437.7 L412.7,437.1 L411.2,436.5 L409.8,435.9 L408.3,435.3 L406.8,434.8 L405.3,434.2 L403.8,433.7 L402.3,433.1 L400.7,432.6 L399.2,432.1 L397.7,431.6 L396.2,431.1 L394.7,430.6 L393.1,430.1 L391.6,429.6 L390.1,429.2 L388.5,428.7 L387.0,428.3 L385.5,427.8 L383.9,427.4 L382.4,427.0 L380.8,426.6 L379.3,426.2 L377.7,425.8 L376.2,425.4 L374.6,425.0 L373.1,424.6 L371.5,424.3 L369.9,423.9 L368.4,423.6 L366.8,423.2 L365.2,422.9 L363.7,422.6 L362.1,422.3 L360.5,422.0 L359.0,421.7 L357.4,421.4 L355.8,421.1 L354.2,420.8 L352.7,420.5 L351.1,420.3 L349.5,420.0 L347.9,419.7 L346.3,419.5 L344.8,419.3 L343.2,419.0 L341.6,418.8 L340.0,418.6 L338.4,418.3 L336.8,418.1 L335.2,417.9 L333.7,417.7 L332.1,417.5 L330.5,417.3 L328.9,417.1 L327.3,417.0 L325.7,416.8 L324.1,416.6 L322.5,416.4 L320.9,416.3 L319.3,416.1 L317.7,416.0 L316.1,415.8 L314.5,415.7 L313.0,415.5 L311.4,415.4 L309.8,415.3 L308.2,415.1 L306.6,415.0 L305.0,414.9 L303.4,414.8 L301.8,414.7 L300.2,414.6 L298.6,414.5 L297.0,414.3 L295.4,414.2 L293.8,414.2 L292.2,414.1 L290.6,414.0 L289.0,413.9 L287.4,413.8 L285.8,413.7 L284.2,413.6 L282.6,413.5 L281.0,413.5 L279.4,413.4" fill="none" stroke="#154360" stroke-width="6.10" stroke-linejoin="round" stroke-linecap="butt" stroke-dasharray="6.10 9.60" stroke-dashoffset="8.15"/>
<path d="M279.4,392.8 L279.4,391.0 L281.0,390.8 L282.6,390.7 L284.2,390.6 L285.8,390.4 L287.4,390.3 L289.0,390.2 L290.6,390.0 L292.2,389.9 L293.8,389.8 L295.4,389.7 L297.0,389.6 L298.6,389.5 L300.2,389.4 L301.8,389.3 L303.4,389.2 L305.0,389.1 L306.6,389.0 L308.2,388.9 L309.8,388.8 L311.4,388.8 L313.0,388.7 L314.6,388.6 L316.2,388.5 L317.8,388.5 L319.4,388.4 L321.0,388.3 L322.6,388.3 L324.2,388.2 L325.8,388.1 L327.4,388.1 L329.0,388.0 L330.6,388.0 L332.2,387.9 L333.8,387.8 L335.4,387.8 L337.0,387.7 L338.6,387.7 L340.2,387.6 L341.8,387.5 L343.4,387.5 L345.0,387.4 L346.6,387.3 L348.2,387.3 L349.8,387.2 L351.4,387.1 L353.0,387.1 L354.6,387.0 L356.2,386.9 L357.8,386.8 L359.4,386.8 L361.0,386.7 L362.6,386.6 L364.2,386.5 L365.8,386.4 L367.4,386.3 L369.0,386.3 L370.6,386.2 L372.2,386.1 L373.8,385.9 L375.4,385.8 L377.0,385.7 L378.6,385.6 L380.2,385.5 L381.8,385.4 L383.4,385.2 L385.0,385.1 L386.6,385.0 L388.2,384.8 L389.8,384.7 L391.4,384.5 L393.0,384.4 L394.6,384.2 L396.2,384.0 L397.8,383.8 L399.4,383.7 L401.0,383.5 L402.6,383.3 L404.1,383.1 L405.7,382.8 L407.3,382.6 L408.9,382.4 L410.5,382.1 L412.1,381.9 L413.7,381.6 L415.2,381.4 L416.8,381.1 L418.4,380.8 L420.0,380.5 L421.5,380.2 L423.1,379.8 L424.7,379.5 L426.2,379.1 L427.8,378.8 L429.3,378.4 L430.9,378.0 L432.4,377.6 L434.0,377.1 L435.5,376.7 L437.1,376.2 L438.6,375.8 L440.1,375.3 L441.6,374.8 L443.2,374.2 L444.7,373.7 L446.2,373.2 L447.7,372.6 L449.2,372.0 L450.6,371.4 L452.1,370.8 L453.6,370.1 L455.1,369.5 L456.5,368.8 L458.0,368.1 L459.4,367.4 L460.8,366.7 L462.3,366.0 L463.7,365.2 L465.1,364.4 L466.5,363.6 L467.9,362.8 L469.2,362.0 L470.6,361.2 L472.0,360.3 L473.3,359.5 L474.7,358.6 L476.0,357.7 L477.3,356.8 L478.6,355.8 L479.9,354.9 L481.2,353.9 L482.4,352.9 L483.7,351.9 L484.9,350.9 L486.2,349.9 L487.4,348.8 L488.6,347.8 L489.7,346.7 L490.9,345.6 L492.1,344.5 L493.2,343.3 L494.3,342.2 L495.4,341.0 L496.5,339.9 L497.6,338.7 L498.6,337.5 L499.7,336.2 L500.7,335.0 L501.7,333.8 L502.7,332.5 L503.7,331.2 L504.7,330.0 L505.6,328.7 L506.6,327.4 L507.5,326.1 L508.4,324.7 L509.3,323.4 L510.2,322.1 L511.0,320.7 L511.9,319.4 L512.7,318.0 L513.6,316.7 L514.4,315.3 L515.2,313.9 L516.0,312.5 L516.8,311.1 L517.6,309.7 L518.3,308.3 L519.1,306.9 L519.8,305.5 L520.6,304.0 L521.3,302.6 L522.0,301.2 L522.7,299.7 L523.4,298.3 L524.1,296.8 L524.8,295.4 L525.5,293.9 L526.1,292.5 L526.8,291.0 L527.4,289.6 L528.1,288.1 L528.7,286.6 L529.4,285.1 L530.0,283.7 L530.6,282.2 L531.2,280.7 L531.8,279.2 L532.4,277.7 L533.0,276.3 L533.6,274.8 L534.2,273.3 L534.8,271.8 L535.4,270.3 L536.0,268.8 L536.6,267.3 L537.1,265.8 L537.7,264.3 L538.3,262.8 L538.8,261.3 L539.4,259.8 L540.0,258.3 L540.5,256.8 L541.1,255.3 L541.7,253.8 L542.2,252.3 L542.8,250.8 L543.3,249.3 L543.9,247.8 L544.4,246.3 L545.0,244.8 L545.5,243.3 L546.1,241.8 L546.6,240.3 L547.2,238.8 L547.7,237.2 L548.2,235.7 L548.8,234.2 L549.3,232.7 L549.9,231.2 L550.4,229.7 L550.9,228.2 L551.5,226.7 L552.0,225.2 L552.5,223.7 L553.1,222.1 L553.6,220.6 L554.1,219.1 L554.7,217.6 L555.2,216.1 L555.7,214.6 L556.3,213.1 L556.8,211.6 L557.3,210.1 L557.9,208.5 L558.4,207.0 L559.0,205.5 L559.5,204.0 L560.0,202.5 L560.6,201.0 L561.1,199.5 L561.6,198.0 L562.2,196.5 L562.7,194.9 L563.2,193.4 L563.8,191.9 L564.3,190.4 L564.9,188.9 L565.4,187.4 L566.0,185.9 L566.5,184.4 L567.0,182.9 L567.6,181.4 L568.1,179.9 L568.7,178.4 L569.2,176.9 L569.8,175.4 L570.4,173.9 L570.9,172.3 L571.5,170.8 L572.0,169.3 L572.6,167.8 L573.2,166.3 L573.7,164.8 L574.3,163.3 L574.9,161.8 L575.4,160.4 L576.0,158.9 L576.6,157.4 L577.2,155.9 L577.8,154.4 L578.3,152.9 L578.9,151.4 L579.5,149.9 L580.1,148.4 L580.7,146.9 L581.3,145.4 L581.9,143.9 L582.5,142.4 L583.1,141.0 L583.7,139.5 L584.3,138.0 L584.9,136.5 L585.5,135.0 L586.1,133.5 L586.7,132.1 L587.3,130.6 L587.9,129.1 L588.5,127.6 L589.1,126.1 L589.8,124.6 L590.4,123.2 L591.0,121.7 L591.6,120.2 L592.3,118.7 L592.9,117.3 L593.5,115.8 L594.2,114.3 L594.8,112.9 L595.5,111.4 L596.1,109.9 L596.8,108.5 L597.5,107.0 L598.2,105.6 L598.9,104.1 L599.6,102.7 L600.3,101.3 L601.1,99.9 L601.8,98.5 L602.6,97.1 L603.5,95.7 L604.3,94.3 L605.1,93.0 L606.0,91.6 L606.9,90.3 L607.9,89.0 L608.8,87.7 L609.8,86.5 L610.9,85.2 L611.9,84.0 L613.0,82.9 L614.1,81.7 L615.3,80.6 L616.5,79.5 L617.7,78.5 L619.0,77.5 L620.2,76.5 L621.6,75.6 L622.9,74.8 L624.3,73.9 L625.7,73.2 L627.1,72.5 L628.6,71.8 L630.1,71.2 L631.6,70.7 L633.1,70.2 L634.7,69.8 L636.2,69.4 L637.8,69.2 L639.4,69.0 L641.0,68.9 L642.6,68.9 L644.2,68.9 L645.8,69.1 L647.4,69.3 L649.0,69.5 L650.5,69.9 L652.1,70.3 L653.6,70.7 L655.2,71.2 L656.7,71.7 L658.2,72.3 L659.7,72.9 L661.1,73.5 L662.6,74.2 L664.0,74.9 L665.4,75.7 L666.9,76.4 L668.3,77.2 L669.6,78.0 L671.0,78.9 L672.4,79.7 L673.7,80.6 L675.1,81.4 L676.4,82.3 L677.7,83.3 L679.0,84.2 L680.3,85.1 L681.6,86.0 L682.9,87.0 L684.2,87.9 L685.5,88.9 L686.8,89.8 L688.1,90.8 L689.4,91.7 L690.7,92.7 L692.0,93.6 L693.3,94.6 L694.6,95.5 L695.9,96.4 L697.2,97.4 L698.5,98.3 L699.8,99.2 L701.1,100.2 L702.4,101.1 L703.7,102.0 L705.0,102.9 L706.4,103.8 L707.7,104.7 L709.0,105.6 L710.3,106.5 L711.7,107.4 L713.0,108.3 L714.3,109.2 L715.7,110.1 L717.0,110.9 L718.4,111.8 L719.7,112.7 L721.1,113.5 L722.4,114.4 L723.8,115.3 L725.1,116.1 L726.5,117.0 L727.8,117.8 L729.2,118.6 L730.6,119.5 L731.9,120.3 L733.3,121.1 L734.7,122.0 L736.1,122.8 L737.5,123.6 L738.8,124.4 L740.2,125.2 L741.6,126.0 L743.0,126.8 L744.4,127.6 L745.8,128.4 L747.2,129.1 L748.6,129.9 L750.0,130.7 L751.4,131.4 L752.8,132.2 L754.3,132.9 L755.7,133.7 L757.1,134.4 L758.5,135.2 L760.0,135.9 L761.4,136.6 L762.8,137.3 L764.3,138.1 L765.7,138.8 L767.1,139.5 L768.6,140.2 L770.0,140.9 L771.5,141.5 L772.9,142.2 L774.4,142.9 L775.8,143.6 L777.3,144.2 L778.8,144.9 L780.2,145.5 L781.7,146.2 L783.2,146.8 L784.6,147.4 L786.1,148.1 L787.6,148.7 L789.1,149.3 L790.6,149.9 L792.0,150.5 L793.5,151.1 L795.0,151.7 L796.5,152.3 L798.0,152.8 L799.5,153.4 L801.0,154.0 L802.5,154.5 L804.0,155.1 L805.5,155.6 L807.0,156.2 L808.6,156.7 L810.1,157.2 L811.6,157.7 L813.1,158.2 L814.6,158.8 L816.1,159.3 L817.7,159.8 L819.2,160.2 L820.7,160.7 L822.3,161.2 L823.8,161.7 L825.3,162.2 L826.9,162.6 L828.4,163.1 L829.9,163.5 L831.5,164.0 L833.0,164.4 L834.5,164.9 L836.1,165.3 L837.6,165.7 L839.2,166.1 L840.7,166.5 L842.3,167.0 L843.8,167.4 L845.4,167.8 L846.9,168.2 L848.5,168.6 L850.0,168.9 L851.6,169.3 L853.2,169.7 L854.7,170.1 L856.3,170.4 L857.8,170.8 L859.4,171.2 L861.0,171.5 L862.5,171.9 L864.1,172.2 L864.0,173.8 L863.8,175.4 L863.6,177.0 L863.2,178.5 L862.9,180.1 L862.4,181.6 L861.9,183.2 L861.4,184.7 L860.7,186.1 L860.0,187.6 L859.3,189.0 L858.4,190.3 L857.6,191.7 L856.6,193.0 L855.6,194.3 L854.6,195.5 L853.5,196.7 L852.4,197.8 L851.3,198.9 L850.1,200.0 L848.9,201.1 L847.6,202.1 L846.4,203.1 L845.1,204.0 L843.8,204.9 L842.5,205.8 L841.1,206.7 L839.8,207.6 L838.4,208.4 L837.0,209.2 L835.6,210.0 L834.2,210.7 L832.8,211.5 L831.4,212.2 L829.9,212.9 L828.5,213.7 L827.1,214.4 L825.6,215.0 L824.2,215.7 L822.7,216.4 L821.2,217.1 L819.8,217.7 L818.3,218.4 L816.9,219.1 L815.4,219.7 L813.9,220.4 L812.5,221.0 L811.0,221.7 L809.6,222.3 L808.1,223.0 L806.6,223.6 L805.2,224.2 L803.7,224.9 L802.2,225.5 L800.7,226.2 L799.3,226.8 L797.8,227.4 L796.3,228.0 L794.9,228.7 L793.4,229.3 L791.9,229.9 L790.4,230.5 L788.9,231.1 L787.5,231.8 L786.0,232.4 L784.5,233.0 L783.0,233.6 L781.5,234.2 L780.1,234.8 L778.6,235.4 L777.1,236.0 L775.6,236.6 L774.1,237.2 L772.6,237.7 L771.1,238.3 L769.6,238.9 L768.1,239.5 L766.6,240.1 L765.2,240.6 L763.7,241.2 L762.2,241.8 L760.7,242.4 L759.2,242.9 L757.7,243.5 L756.2,244.1 L754.7,244.6 L753.2,245.2 L751.7,245.7 L750.2,246.3 L748.7,246.8 L747.1,247.4 L745.6,247.9 L744.1,248.5 L742.6,249.0 L741.1,249.5 L739.6,250.1 L738.1,250.6 L736.6,251.2 L735.1,251.7 L733.6,252.3 L732.1,252.8 L730.6,253.4 L729.1,253.9 L727.6,254.5 L726.1,255.0 L724.6,255.6 L723.1,256.1 L721.6,256.7 L720.1,257.3 L718.6,257.9 L717.1,258.5 L715.6,259.1 L714.1,259.7 L712.7,260.3 L711.2,260.9 L709.7,261.5 L708.2,262.2 L706.8,262.8 L705.3,263.5 L703.9,264.1 L702.4,264.8 L701.0,265.5 L699.5,266.2 L698.1,266.9 L696.7,267.6 L695.2,268.4 L693.8,269.1 L692.4,269.9 L691.0,270.7 L689.6,271.5 L688.2,272.3 L686.9,273.1 L685.5,274.0 L684.2,274.8 L682.8,275.7 L681.5,276.6 L680.2,277.5 L678.9,278.4 L677.6,279.4 L676.3,280.3 L675.0,281.3 L673.8,282.3 L672.6,283.3 L671.3,284.4 L670.1,285.4 L668.9,286.5 L667.8,287.6 L666.6,288.7 L665.5,289.8 L664.3,291.0 L663.2,292.1 L662.1,293.2 L660.9,294.4 L659.8,295.5 L658.7,296.6 L657.5,297.7 L656.4,298.8 L655.2,299.9 L654.0,301.0 L652.9,302.1 L651.7,303.2 L650.5,304.3 L649.3,305.4 L648.2,306.5 L647.0,307.6 L645.9,308.8 L644.8,309.9 L643.7,311.1 L642.6,312.3 L641.6,313.5 L640.5,314.7 L639.5,315.9 L638.5,317.2 L637.5,318.5 L636.6,319.7 L635.7,321.1 L634.7,322.4 L633.9,323.7 L633.0,325.0 L632.1,326.4 L631.3,327.8 L630.5,329.2 L629.7,330.6 L628.9,332.0 L628.2,333.4 L627.5,334.8 L626.8,336.2 L626.1,337.7 L625.4,339.1 L624.7,340.6 L624.1,342.1 L623.5,343.5 L622.9,345.0 L622.3,346.5 L621.7,348.0 L621.1,349.5 L620.6,351.0 L620.0,352.5 L619.5,354.0 L618.9,355.5 L618.4,357.0 L617.8,358.5 L617.2,360.0 L616.7,361.5 L616.1,363.0 L615.5,364.5 L615.0,366.0 L614.3,367.5 L613.7,369.0 L613.1,370.4 L612.5,371.9 L611.8,373.4 L611.1,374.8 L610.4,376.2 L609.7,377.7 L609.0,379.1 L608.3,380.5 L607.5,382.0 L606.8,383.4 L606.1,384.8 L605.4,386.3 L604.8,387.7 L604.1,389.2 L603.4,390.7 L602.8,392.1 L602.2,393.6 L601.6,395.1 L601.0,396.6 L600.4,398.1 L599.8,399.6 L599.2,401.1 L598.7,402.6 L598.1,404.1 L597.6,405.6 L597.0,407.1 L596.5,408.6 L596.0,410.1 L595.5,411.6 L595.0,413.1 L594.4,414.6 L593.9,416.2 L593.4,417.7 L592.9,419.2 L592.4,420.7 L592.0,422.3 L591.5,423.8 L591.0,425.3 L590.5,426.8 L590.0,428.4 L589.5,429.9 L589.0,431.4 L588.5,432.9 L588.0,434.4 L587.5,436.0 L587.0,437.5 L586.5,439.0 L586.0,440.5 L585.5,442.1 L585.0,443.6 L584.5,445.1 L584.1,446.6 L583.6,448.2 L583.1,449.7 L582.6,451.2 L582.1,452.7 L581.6,454.2 L581.1,455.8 L580.6,457.3 L580.1,458.8 L579.6,460.3 L579.1,461.8 L578.5,463.4 L578.0,464.9 L577.5,466.4 L577.0,467.9 L576.5,469.4 L576.0,471.0 L575.5,472.5 L575.0,474.0 L574.5,475.5 L573.9,477.0 L573.4,478.5 L572.9,480.1 L572.4,481.6 L571.8,483.1 L571.3,484.6 L570.8,486.1 L570.3,487.6 L569.7,489.1 L569.2,490.6 L568.7,492.1 L568.1,493.7 L567.6,495.2 L567.0,496.7 L566.5,498.2 L565.9,499.7 L565.4,501.2 L564.8,502.7 L564.3,504.2 L563.7,505.7 L563.2,507.2 L562.6,508.7 L562.0,510.2 L561.5,511.7 L560.9,513.2 L560.3,514.7 L559.7,516.2 L559.2,517.7 L558.6,519.2 L558.0,520.6 L557.4,522.1 L556.8,523.6 L556.2,525.1 L555.6,526.6 L554.9,528.0 L554.3,529.5 L553.6,530.9 L552.9,532.4 L552.1,533.8 L551.3,535.2 L550.4,536.5 L549.5,537.9 L548.6,539.1 L547.6,540.4 L546.5,541.6 L545.4,542.7 L544.2,543.8 L543.0,544.8 L541.7,545.8 L540.3,546.6 L538.9,547.4 L537.5,548.1 L536.0,548.7 L534.5,549.2 L532.9,549.6 L531.3,549.8 L529.7,549.7 L528.2,549.5 L526.6,549.0 L525.1,548.4 L523.7,547.7 L522.3,546.8 L521.0,546.0 L519.7,545.0 L518.5,544.0 L517.2,543.0 L516.0,541.9 L514.9,540.8 L513.7,539.7 L512.6,538.5 L511.6,537.3 L510.5,536.1 L509.5,534.9 L508.6,533.6 L507.6,532.3 L506.7,531.0 L505.7,529.7 L504.8,528.4 L504.0,527.0 L503.1,525.7 L502.2,524.4 L501.3,523.0 L500.5,521.7 L499.6,520.3 L498.7,519.0 L497.9,517.6 L497.0,516.3 L496.1,515.0 L495.2,513.7 L494.2,512.4 L493.3,511.1 L492.3,509.8 L491.4,508.5 L490.4,507.2 L489.4,506.0 L488.4,504.7 L487.4,503.5 L486.4,502.2 L485.3,501.0 L484.3,499.8 L483.3,498.6 L482.2,497.4 L481.1,496.2 L480.0,495.0 L479.0,493.8 L477.9,492.7 L476.8,491.5 L475.6,490.4 L474.5,489.2 L473.4,488.1 L472.3,487.0 L471.1,485.8 L470.0,484.7 L468.8,483.6 L467.6,482.5 L466.5,481.4 L465.3,480.3 L464.1,479.2 L462.9,478.2 L461.8,477.1 L460.6,476.0 L459.4,474.9 L458.2,473.9 L457.0,472.8 L455.8,471.8 L454.5,470.7 L453.3,469.7 L452.1,468.7 L450.9,467.6 L449.7,466.6 L448.4,465.6 L447.2,464.5 L446.0,463.5 L444.7,462.5 L443.5,461.5 L442.2,460.5 L441.0,459.5 L439.7,458.5 L438.4,457.6 L437.1,456.6 L435.8,455.7 L434.6,454.7 L433.2,453.8 L431.9,452.9 L430.6,452.0 L429.3,451.1 L427.9,450.2 L426.6,449.3 L425.2,448.5 L423.9,447.6 L422.5,446.8 L421.1,446.0 L419.7,445.3 L418.3,444.5 L416.9,443.8 L415.4,443.0 L414.0,442.3 L412.6,441.6 L411.1,440.9 L409.7,440.3 L408.2,439.6 L406.7,439.0 L405.2,438.4 L403.8,437.8 L402.3,437.2 L400.8,436.6 L399.3,436.1 L397.8,435.6 L396.2,435.0 L394.7,434.5 L393.2,434.0 L391.7,433.5 L390.1,433.1 L388.6,432.6 L387.1,432.1 L385.5,431.7 L384.0,431.3 L382.4,430.9 L380.9,430.5 L379.3,430.1 L377.8,429.7 L376.2,429.3 L374.7,429.0 L373.1,428.6 L371.5,428.3 L370.0,427.9 L368.4,427.6 L366.8,427.3 L365.3,427.0 L363.7,426.7 L362.1,426.4 L360.5,426.1 L359.0,425.8 L357.4,425.5 L355.8,425.2 L354.2,425.0 L352.7,424.7 L351.1,424.5 L349.5,424.2 L347.9,424.0 L346.3,423.7 L344.7,423.5 L343.2,423.2 L341.6,423.0 L340.0,422.8 L338.4,422.6 L336.8,422.3 L335.2,422.1 L333.6,421.9 L332.1,421.7 L330.5,421.5 L328.9,421.3 L327.3,421.1 L325.7,420.9 L324.1,420.7 L322.5,420.5 L320.9,420.3 L319.3,420.1 L317.7,419.9 L316.2,419.8 L314.6,419.6 L313.0,419.4 L311.4,419.3 L309.8,419.1 L308.2,419.0 L306.6,418.8 L305.0,418.7 L303.4,418.6 L301.8,418.5 L300.2,418.4 L298.6,418.3 L297.0,418.2 L295.4,418.1 L293.8,418.0 L292.2,417.9 L290.6,417.8 L289.0,417.8 L287.4,417.7 L285.8,417.7 L284.2,417.7 L282.6,417.6 L281.0,417.6 L279.4,417.6" fill="none" stroke="#8e44ad" stroke-width="6.10" stroke-linejoin="round" stroke-linecap="square"/>
<line x1="277.6" y1="364.2" x2="308" y2="364.2" stroke="#000" stroke-width="4"/><polygon points="307,353.4 343.4,364.3 307,374.9" fill="#000"/>
<line x1="182.0" y1="12.2" x2="182.0" y2="620.6" stroke="#000" stroke-width="3.6" stroke-linecap="square"/>
<line x1="182.0" y1="620.6" x2="961.5" y2="620.6" stroke="#000" stroke-width="3.6" stroke-linecap="square"/>
<line x1="163.4" y1="12.20" x2="199.8" y2="12.20" stroke="#000" stroke-width="3.6"/>
<line x1="182.0" y1="27.41" x2="193.8" y2="27.41" stroke="#000" stroke-width="3.6"/>
<line x1="182.0" y1="42.62" x2="193.8" y2="42.62" stroke="#000" stroke-width="3.6"/>
<line x1="182.0" y1="57.83" x2="193.8" y2="57.83" stroke="#000" stroke-width="3.6"/>
<line x1="182.0" y1="73.04" x2="193.8" y2="73.04" stroke="#000" stroke-width="3.6"/>
<line x1="163.4" y1="88.25" x2="199.8" y2="88.25" stroke="#000" stroke-width="3.6"/>
<line x1="182.0" y1="103.46" x2="193.8" y2="103.46" stroke="#000" stroke-width="3.6"/>
<line x1="182.0" y1="118.67" x2="193.8" y2="118.67" stroke="#000" stroke-width="3.6"/>
<line x1="182.0" y1="133.88" x2="193.8" y2="133.88" stroke="#000" stroke-width="3.6"/>
<line x1="182.0" y1="149.09" x2="193.8" y2="149.09" stroke="#000" stroke-width="3.6"/>
<line x1="163.4" y1="164.30" x2="199.8" y2="164.30" stroke="#000" stroke-width="3.6"/>
<line x1="182.0" y1="179.51" x2="193.8" y2="179.51" stroke="#000" stroke-width="3.6"/>
<line x1="182.0" y1="194.72" x2="193.8" y2="194.72" stroke="#000" stroke-width="3.6"/>
<line x1="182.0" y1="209.93" x2="193.8" y2="209.93" stroke="#000" stroke-width="3.6"/>
<line x1="182.0" y1="225.14" x2="193.8" y2="225.14" stroke="#000" stroke-width="3.6"/>
<line x1="163.4" y1="240.35" x2="199.8" y2="240.35" stroke="#000" stroke-width="3.6"/>
<line x1="182.0" y1="255.56" x2="193.8" y2="255.56" stroke="#000" stroke-width="3.6"/>
<line x1="182.0" y1="270.77" x2="193.8" y2="270.77" stroke="#000" stroke-width="3.6"/>
<line x1="182.0" y1="285.98" x2="193.8" y2="285.98" stroke="#000" stroke-width="3.6"/>
<line x1="182.0" y1="301.19" x2="193.8" y2="301.19" stroke="#000" stroke-width="3.6"/>
<line x1="163.4" y1="316.40" x2="199.8" y2="316.40" stroke="#000" stroke-width="3.6"/>
<line x1="182.0" y1="331.61" x2="193.8" y2="331.61" stroke="#000" stroke-width="3.6"/>
<line x1="182.0" y1="346.82" x2="193.8" y2="346.82" stroke="#000" stroke-width="3.6"/>
<line x1="182.0" y1="362.03" x2="193.8" y2="362.03" stroke="#000" stroke-width="3.6"/>
<line x1="182.0" y1="377.24" x2="193.8" y2="377.24" stroke="#000" stroke-width="3.6"/>
<line x1="163.4" y1="392.45" x2="199.8" y2="392.45" stroke="#000" stroke-width="3.6"/>
<line x1="182.0" y1="407.66" x2="193.8" y2="407.66" stroke="#000" stroke-width="3.6"/>
<line x1="182.0" y1="422.87" x2="193.8" y2="422.87" stroke="#000" stroke-width="3.6"/>
<line x1="182.0" y1="438.08" x2="193.8" y2="438.08" stroke="#000" stroke-width="3.6"/>
<line x1="182.0" y1="453.29" x2="193.8" y2="453.29" stroke="#000" stroke-width="3.6"/>
<line x1="163.4" y1="468.50" x2="199.8" y2="468.50" stroke="#000" stroke-width="3.6"/>
<line x1="182.0" y1="483.71" x2="193.8" y2="483.71" stroke="#000" stroke-width="3.6"/>
<line x1="182.0" y1="498.92" x2="193.8" y2="498.92" stroke="#000" stroke-width="3.6"/>
<line x1="182.0" y1="514.13" x2="193.8" y2="514.13" stroke="#000" stroke-width="3.6"/>
<line x1="182.0" y1="529.34" x2="193.8" y2="529.34" stroke="#000" stroke-width="3.6"/>
<line x1="163.4" y1="544.55" x2="199.8" y2="544.55" stroke="#000" stroke-width="3.6"/>
<line x1="182.0" y1="559.76" x2="193.8" y2="559.76" stroke="#000" stroke-width="3.6"/>
<line x1="182.0" y1="574.97" x2="193.8" y2="574.97" stroke="#000" stroke-width="3.6"/>
<line x1="182.0" y1="590.18" x2="193.8" y2="590.18" stroke="#000" stroke-width="3.6"/>
<line x1="182.0" y1="605.39" x2="193.8" y2="605.39" stroke="#000" stroke-width="3.6"/>
<line x1="163.4" y1="620.60" x2="199.8" y2="620.60" stroke="#000" stroke-width="3.6"/>
<line x1="182.00" y1="602.6" x2="182.00" y2="638.8" stroke="#000" stroke-width="3.6"/>
<line x1="220.98" y1="608.3" x2="220.98" y2="620.6" stroke="#000" stroke-width="3.6"/>
<line x1="259.95" y1="608.3" x2="259.95" y2="620.6" stroke="#000" stroke-width="3.6"/>
<line x1="298.92" y1="608.3" x2="298.92" y2="620.6" stroke="#000" stroke-width="3.6"/>
<line x1="337.90" y1="608.3" x2="337.90" y2="620.6" stroke="#000" stroke-width="3.6"/>
<line x1="376.88" y1="602.6" x2="376.88" y2="638.8" stroke="#000" stroke-width="3.6"/>
<line x1="415.85" y1="608.3" x2="415.85" y2="620.6" stroke="#000" stroke-width="3.6"/>
<line x1="454.82" y1="608.3" x2="454.82" y2="620.6" stroke="#000" stroke-width="3.6"/>
<line x1="493.80" y1="608.3" x2="493.80" y2="620.6" stroke="#000" stroke-width="3.6"/>
<line x1="532.77" y1="608.3" x2="532.77" y2="620.6" stroke="#000" stroke-width="3.6"/>
<line x1="571.75" y1="602.6" x2="571.75" y2="638.8" stroke="#000" stroke-width="3.6"/>
<line x1="610.73" y1="608.3" x2="610.73" y2="620.6" stroke="#000" stroke-width="3.6"/>
<line x1="649.70" y1="608.3" x2="649.70" y2="620.6" stroke="#000" stroke-width="3.6"/>
<line x1="688.67" y1="608.3" x2="688.67" y2="620.6" stroke="#000" stroke-width="3.6"/>
<line x1="727.65" y1="608.3" x2="727.65" y2="620.6" stroke="#000" stroke-width="3.6"/>
<line x1="766.62" y1="602.6" x2="766.62" y2="638.8" stroke="#000" stroke-width="3.6"/>
<line x1="805.60" y1="608.3" x2="805.60" y2="620.6" stroke="#000" stroke-width="3.6"/>
<line x1="844.58" y1="608.3" x2="844.58" y2="620.6" stroke="#000" stroke-width="3.6"/>
<line x1="883.55" y1="608.3" x2="883.55" y2="620.6" stroke="#000" stroke-width="3.6"/>
<line x1="922.52" y1="608.3" x2="922.52" y2="620.6" stroke="#000" stroke-width="3.6"/>
<line x1="961.50" y1="602.6" x2="961.50" y2="638.8" stroke="#000" stroke-width="3.6"/>
<text x="148.8" y="25.00" font-family="Liberation Serif, serif" font-size="38" text-anchor="end" textLength="51.5" lengthAdjust="spacingAndGlyphs">0.5</text>
<text x="148.8" y="101.05" font-family="Liberation Serif, serif" font-size="38" text-anchor="end" textLength="51.5" lengthAdjust="spacingAndGlyphs">0.4</text>
<text x="148.8" y="177.10" font-family="Liberation Serif, serif" font-size="38" text-anchor="end" textLength="51.5" lengthAdjust="spacingAndGlyphs">0.3</text>
<text x="148.8" y="253.15" font-family="Liberation Serif, serif" font-size="38" text-anchor="end" textLength="51.5" lengthAdjust="spacingAndGlyphs">0.2</text>
<text x="148.8" y="329.20" font-family="Liberation Serif, serif" font-size="38" text-anchor="end" textLength="51.5" lengthAdjust="spacingAndGlyphs">0.1</text>
<text x="148.8" y="405.25" font-family="Liberation Serif, serif" font-size="38" text-anchor="end" textLength="51.5" lengthAdjust="spacingAndGlyphs">0.0</text>
<text x="148.8" y="481.30" font-family="Liberation Serif, serif" font-size="38" text-anchor="end" textLength="79.7" lengthAdjust="spacingAndGlyphs">−0.1</text>
<text x="148.8" y="557.35" font-family="Liberation Serif, serif" font-size="38" text-anchor="end" textLength="79.7" lengthAdjust="spacingAndGlyphs">−0.2</text>
<text x="148.8" y="633.40" font-family="Liberation Serif, serif" font-size="38" text-anchor="end" textLength="79.7" lengthAdjust="spacingAndGlyphs">−0.3</text>
<text x="181.5" y="678.4" font-family="Liberation Serif, serif" font-size="38" text-anchor="middle" textLength="51.5" lengthAdjust="spacingAndGlyphs">0.2</text>
<text x="376.4" y="678.4" font-family="Liberation Serif, serif" font-size="38" text-anchor="middle" textLength="51.5" lengthAdjust="spacingAndGlyphs">0.0</text>
<text x="571.2" y="678.4" font-family="Liberation Serif, serif" font-size="38" text-anchor="middle" textLength="79.7" lengthAdjust="spacingAndGlyphs">−0.2</text>
<text x="766.1" y="678.4" font-family="Liberation Serif, serif" font-size="38" text-anchor="middle" textLength="79.7" lengthAdjust="spacingAndGlyphs">−0.4</text>
<text x="961.0" y="678.4" font-family="Liberation Serif, serif" font-size="38" text-anchor="middle" textLength="79.7" lengthAdjust="spacingAndGlyphs">−0.6</text>
<text x="366.90" y="732.4" font-family="Liberation Serif, serif" font-size="45.5" textLength="179.4" lengthAdjust="spacingAndGlyphs">Potential</text>
<text x="561.95" y="732.4" font-family="Liberation Serif, serif" font-size="45.5" textLength="44.4" lengthAdjust="spacingAndGlyphs">(V</text>
<text x="617.50" y="732.4" font-family="Liberation Serif, serif" font-size="45.5" textLength="41.5" lengthAdjust="spacingAndGlyphs">vs</text>
<text x="673.15" y="732.4" font-family="Liberation Serif, serif" font-size="45.5" textLength="103.5" lengthAdjust="spacingAndGlyphs">SCE)</text>
<g transform="translate(36.8,584.3) rotate(-90)"><text x="0" y="0" font-family="Liberation Serif, serif" font-size="46" textLength="168.6" lengthAdjust="spacingAndGlyphs">Current</text><text x="174.4" y="0" font-family="Liberation Serif, serif" font-size="46" textLength="154.7" lengthAdjust="spacingAndGlyphs">Density</text><text x="341.3" y="0" font-family="Liberation Serif, serif" font-size="46" textLength="156" lengthAdjust="spacingAndGlyphs">(mA/cm</text><text x="500" y="-15.1" font-family="Liberation Serif, serif" font-size="31.5">2</text><text x="519.2" y="-2.5" font-family="Liberation Serif, serif" font-size="42" textLength="10.5" lengthAdjust="spacingAndGlyphs">)</text></g>
</svg>
</body></html>
